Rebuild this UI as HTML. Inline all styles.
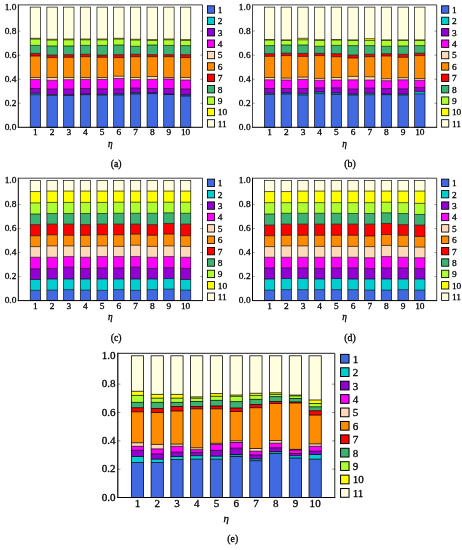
<!DOCTYPE html>
<html><head><meta charset="utf-8"><title>Figure</title>
<style>
html,body{margin:0;padding:0;background:#fff;}
svg{display:block;}
text{font-family:'Liberation Serif', serif;fill:#000;stroke:#000;stroke-width:0.3px;}
</style></head>
<body>
<svg width="462" height="550" viewBox="0 0 462 550">
<rect width="462" height="550" fill="#fff"/>
<rect x="30.20" y="94.70" width="10.40" height="32.60" fill="#4169E1"/>
<rect x="30.20" y="93.30" width="10.40" height="1.40" fill="#00A5A8"/>
<rect x="30.20" y="88.50" width="10.40" height="4.80" fill="#9400D3"/>
<rect x="30.20" y="79.40" width="10.40" height="9.10" fill="#FF00FF"/>
<rect x="30.20" y="77.50" width="10.40" height="1.90" fill="#FFDAB9"/>
<rect x="30.20" y="56.00" width="10.40" height="21.50" fill="#FF8C00"/>
<rect x="30.20" y="53.40" width="10.40" height="2.60" fill="#FF0000"/>
<rect x="30.20" y="45.40" width="10.40" height="8.00" fill="#3CB371"/>
<rect x="30.20" y="39.10" width="10.40" height="6.30" fill="#ADFF2F"/>
<rect x="30.20" y="38.30" width="10.40" height="0.80" fill="#FFFF00"/>
<rect x="30.20" y="7.10" width="10.40" height="31.20" fill="#FFFFE0"/>
<rect x="30.20" y="7.10" width="10.40" height="120.20" fill="none" stroke="#000" stroke-width="0.65"/>
<path d="M30.20 94.70h10.40M30.20 93.30h10.40M30.20 88.50h10.40M30.20 79.40h10.40M30.20 77.50h10.40M30.20 56.00h10.40M30.20 53.40h10.40M30.20 45.40h10.40M30.20 39.10h10.40M30.20 38.30h10.40" stroke="#000" stroke-width="0.65" fill="none"/>
<rect x="46.89" y="95.40" width="10.40" height="31.90" fill="#4169E1"/>
<rect x="46.89" y="94.60" width="10.40" height="0.80" fill="#00A5A8"/>
<rect x="46.89" y="89.10" width="10.40" height="5.50" fill="#9400D3"/>
<rect x="46.89" y="80.30" width="10.40" height="8.80" fill="#FF00FF"/>
<rect x="46.89" y="77.50" width="10.40" height="2.80" fill="#FFDAB9"/>
<rect x="46.89" y="57.60" width="10.40" height="19.90" fill="#FF8C00"/>
<rect x="46.89" y="55.10" width="10.40" height="2.50" fill="#FF0000"/>
<rect x="46.89" y="46.00" width="10.40" height="9.10" fill="#3CB371"/>
<rect x="46.89" y="40.05" width="10.40" height="5.95" fill="#ADFF2F"/>
<rect x="46.89" y="39.25" width="10.40" height="0.80" fill="#FFFF00"/>
<rect x="46.89" y="7.10" width="10.40" height="32.15" fill="#FFFFE0"/>
<rect x="46.89" y="7.10" width="10.40" height="120.20" fill="none" stroke="#000" stroke-width="0.65"/>
<path d="M46.89 95.40h10.40M46.89 94.60h10.40M46.89 89.10h10.40M46.89 80.30h10.40M46.89 77.50h10.40M46.89 57.60h10.40M46.89 55.10h10.40M46.89 46.00h10.40M46.89 40.05h10.40M46.89 39.25h10.40" stroke="#000" stroke-width="0.65" fill="none"/>
<rect x="63.58" y="95.40" width="10.40" height="31.90" fill="#4169E1"/>
<rect x="63.58" y="95.00" width="10.40" height="0.40" fill="#00A5A8"/>
<rect x="63.58" y="89.10" width="10.40" height="5.90" fill="#9400D3"/>
<rect x="63.58" y="79.70" width="10.40" height="9.40" fill="#FF00FF"/>
<rect x="63.58" y="77.50" width="10.40" height="2.20" fill="#FFDAB9"/>
<rect x="63.58" y="57.30" width="10.40" height="20.20" fill="#FF8C00"/>
<rect x="63.58" y="54.70" width="10.40" height="2.60" fill="#FF0000"/>
<rect x="63.58" y="46.00" width="10.40" height="8.70" fill="#3CB371"/>
<rect x="63.58" y="39.80" width="10.40" height="6.20" fill="#ADFF2F"/>
<rect x="63.58" y="39.00" width="10.40" height="0.80" fill="#FFFF00"/>
<rect x="63.58" y="7.10" width="10.40" height="31.90" fill="#FFFFE0"/>
<rect x="63.58" y="7.10" width="10.40" height="120.20" fill="none" stroke="#000" stroke-width="0.65"/>
<path d="M63.58 95.40h10.40M63.58 95.00h10.40M63.58 89.10h10.40M63.58 79.70h10.40M63.58 77.50h10.40M63.58 57.30h10.40M63.58 54.70h10.40M63.58 46.00h10.40M63.58 39.80h10.40M63.58 39.00h10.40" stroke="#000" stroke-width="0.65" fill="none"/>
<rect x="80.27" y="94.70" width="10.40" height="32.60" fill="#4169E1"/>
<rect x="80.27" y="94.10" width="10.40" height="0.60" fill="#00A5A8"/>
<rect x="80.27" y="88.50" width="10.40" height="5.60" fill="#9400D3"/>
<rect x="80.27" y="79.40" width="10.40" height="9.10" fill="#FF00FF"/>
<rect x="80.27" y="77.50" width="10.40" height="1.90" fill="#FFDAB9"/>
<rect x="80.27" y="56.70" width="10.40" height="20.80" fill="#FF8C00"/>
<rect x="80.27" y="54.30" width="10.40" height="2.40" fill="#FF0000"/>
<rect x="80.27" y="45.40" width="10.40" height="8.90" fill="#3CB371"/>
<rect x="80.27" y="39.80" width="10.40" height="5.60" fill="#ADFF2F"/>
<rect x="80.27" y="39.00" width="10.40" height="0.80" fill="#FFFF00"/>
<rect x="80.27" y="7.10" width="10.40" height="31.90" fill="#FFFFE0"/>
<rect x="80.27" y="7.10" width="10.40" height="120.20" fill="none" stroke="#000" stroke-width="0.65"/>
<path d="M80.27 94.70h10.40M80.27 94.10h10.40M80.27 88.50h10.40M80.27 79.40h10.40M80.27 77.50h10.40M80.27 56.70h10.40M80.27 54.30h10.40M80.27 45.40h10.40M80.27 39.80h10.40M80.27 39.00h10.40" stroke="#000" stroke-width="0.65" fill="none"/>
<rect x="96.96" y="95.10" width="10.40" height="32.20" fill="#4169E1"/>
<rect x="96.96" y="94.30" width="10.40" height="0.80" fill="#00A5A8"/>
<rect x="96.96" y="88.80" width="10.40" height="5.50" fill="#9400D3"/>
<rect x="96.96" y="79.40" width="10.40" height="9.40" fill="#FF00FF"/>
<rect x="96.96" y="77.50" width="10.40" height="1.90" fill="#FFDAB9"/>
<rect x="96.96" y="57.30" width="10.40" height="20.20" fill="#FF8C00"/>
<rect x="96.96" y="55.10" width="10.40" height="2.20" fill="#FF0000"/>
<rect x="96.96" y="45.40" width="10.40" height="9.70" fill="#3CB371"/>
<rect x="96.96" y="39.80" width="10.40" height="5.60" fill="#ADFF2F"/>
<rect x="96.96" y="39.00" width="10.40" height="0.80" fill="#FFFF00"/>
<rect x="96.96" y="7.10" width="10.40" height="31.90" fill="#FFFFE0"/>
<rect x="96.96" y="7.10" width="10.40" height="120.20" fill="none" stroke="#000" stroke-width="0.65"/>
<path d="M96.96 95.10h10.40M96.96 94.30h10.40M96.96 88.80h10.40M96.96 79.40h10.40M96.96 77.50h10.40M96.96 57.30h10.40M96.96 55.10h10.40M96.96 45.40h10.40M96.96 39.80h10.40M96.96 39.00h10.40" stroke="#000" stroke-width="0.65" fill="none"/>
<rect x="113.65" y="95.10" width="10.40" height="32.20" fill="#4169E1"/>
<rect x="113.65" y="94.10" width="10.40" height="1.00" fill="#00A5A8"/>
<rect x="113.65" y="88.80" width="10.40" height="5.30" fill="#9400D3"/>
<rect x="113.65" y="78.50" width="10.40" height="10.30" fill="#FF00FF"/>
<rect x="113.65" y="76.20" width="10.40" height="2.30" fill="#FFDAB9"/>
<rect x="113.65" y="57.60" width="10.40" height="18.60" fill="#FF8C00"/>
<rect x="113.65" y="54.70" width="10.40" height="2.90" fill="#FF0000"/>
<rect x="113.65" y="45.00" width="10.40" height="9.70" fill="#3CB371"/>
<rect x="113.65" y="39.10" width="10.40" height="5.90" fill="#ADFF2F"/>
<rect x="113.65" y="38.30" width="10.40" height="0.80" fill="#FFFF00"/>
<rect x="113.65" y="7.10" width="10.40" height="31.20" fill="#FFFFE0"/>
<rect x="113.65" y="7.10" width="10.40" height="120.20" fill="none" stroke="#000" stroke-width="0.65"/>
<path d="M113.65 95.10h10.40M113.65 94.10h10.40M113.65 88.80h10.40M113.65 78.50h10.40M113.65 76.20h10.40M113.65 57.60h10.40M113.65 54.70h10.40M113.65 45.00h10.40M113.65 39.10h10.40M113.65 38.30h10.40" stroke="#000" stroke-width="0.65" fill="none"/>
<rect x="130.34" y="94.10" width="10.40" height="33.20" fill="#4169E1"/>
<rect x="130.34" y="93.00" width="10.40" height="1.10" fill="#00A5A8"/>
<rect x="130.34" y="88.10" width="10.40" height="4.90" fill="#9400D3"/>
<rect x="130.34" y="79.70" width="10.40" height="8.40" fill="#FF00FF"/>
<rect x="130.34" y="77.50" width="10.40" height="2.20" fill="#FFDAB9"/>
<rect x="130.34" y="56.70" width="10.40" height="20.80" fill="#FF8C00"/>
<rect x="130.34" y="54.30" width="10.40" height="2.40" fill="#FF0000"/>
<rect x="130.34" y="46.30" width="10.40" height="8.00" fill="#3CB371"/>
<rect x="130.34" y="40.05" width="10.40" height="6.25" fill="#ADFF2F"/>
<rect x="130.34" y="39.25" width="10.40" height="0.80" fill="#FFFF00"/>
<rect x="130.34" y="7.10" width="10.40" height="32.15" fill="#FFFFE0"/>
<rect x="130.34" y="7.10" width="10.40" height="120.20" fill="none" stroke="#000" stroke-width="0.65"/>
<path d="M130.34 94.10h10.40M130.34 93.00h10.40M130.34 88.10h10.40M130.34 79.70h10.40M130.34 77.50h10.40M130.34 56.70h10.40M130.34 54.30h10.40M130.34 46.30h10.40M130.34 40.05h10.40M130.34 39.25h10.40" stroke="#000" stroke-width="0.65" fill="none"/>
<rect x="147.03" y="93.60" width="10.40" height="33.70" fill="#4169E1"/>
<rect x="147.03" y="93.00" width="10.40" height="0.60" fill="#00A5A8"/>
<rect x="147.03" y="88.50" width="10.40" height="4.50" fill="#9400D3"/>
<rect x="147.03" y="79.40" width="10.40" height="9.10" fill="#FF00FF"/>
<rect x="147.03" y="76.50" width="10.40" height="2.90" fill="#FFDAB9"/>
<rect x="147.03" y="56.70" width="10.40" height="19.80" fill="#FF8C00"/>
<rect x="147.03" y="54.70" width="10.40" height="2.00" fill="#FF0000"/>
<rect x="147.03" y="45.00" width="10.40" height="9.70" fill="#3CB371"/>
<rect x="147.03" y="40.40" width="10.40" height="4.60" fill="#ADFF2F"/>
<rect x="147.03" y="39.60" width="10.40" height="0.80" fill="#FFFF00"/>
<rect x="147.03" y="7.10" width="10.40" height="32.50" fill="#FFFFE0"/>
<rect x="147.03" y="7.10" width="10.40" height="120.20" fill="none" stroke="#000" stroke-width="0.65"/>
<path d="M147.03 93.60h10.40M147.03 93.00h10.40M147.03 88.50h10.40M147.03 79.40h10.40M147.03 76.50h10.40M147.03 56.70h10.40M147.03 54.70h10.40M147.03 45.00h10.40M147.03 40.40h10.40M147.03 39.60h10.40" stroke="#000" stroke-width="0.65" fill="none"/>
<rect x="163.72" y="94.50" width="10.40" height="32.80" fill="#4169E1"/>
<rect x="163.72" y="94.10" width="10.40" height="0.40" fill="#00A5A8"/>
<rect x="163.72" y="88.50" width="10.40" height="5.60" fill="#9400D3"/>
<rect x="163.72" y="79.00" width="10.40" height="9.50" fill="#FF00FF"/>
<rect x="163.72" y="77.50" width="10.40" height="1.50" fill="#FFDAB9"/>
<rect x="163.72" y="56.70" width="10.40" height="20.80" fill="#FF8C00"/>
<rect x="163.72" y="54.70" width="10.40" height="2.00" fill="#FF0000"/>
<rect x="163.72" y="45.40" width="10.40" height="9.30" fill="#3CB371"/>
<rect x="163.72" y="39.80" width="10.40" height="5.60" fill="#ADFF2F"/>
<rect x="163.72" y="39.00" width="10.40" height="0.80" fill="#FFFF00"/>
<rect x="163.72" y="7.10" width="10.40" height="31.90" fill="#FFFFE0"/>
<rect x="163.72" y="7.10" width="10.40" height="120.20" fill="none" stroke="#000" stroke-width="0.65"/>
<path d="M163.72 94.50h10.40M163.72 94.10h10.40M163.72 88.50h10.40M163.72 79.00h10.40M163.72 77.50h10.40M163.72 56.70h10.40M163.72 54.70h10.40M163.72 45.40h10.40M163.72 39.80h10.40M163.72 39.00h10.40" stroke="#000" stroke-width="0.65" fill="none"/>
<rect x="180.41" y="96.00" width="10.40" height="31.30" fill="#4169E1"/>
<rect x="180.41" y="95.00" width="10.40" height="1.00" fill="#00A5A8"/>
<rect x="180.41" y="89.10" width="10.40" height="5.90" fill="#9400D3"/>
<rect x="180.41" y="80.05" width="10.40" height="9.05" fill="#FF00FF"/>
<rect x="180.41" y="77.50" width="10.40" height="2.55" fill="#FFDAB9"/>
<rect x="180.41" y="57.60" width="10.40" height="19.90" fill="#FF8C00"/>
<rect x="180.41" y="54.70" width="10.40" height="2.90" fill="#FF0000"/>
<rect x="180.41" y="45.60" width="10.40" height="9.10" fill="#3CB371"/>
<rect x="180.41" y="40.40" width="10.40" height="5.20" fill="#ADFF2F"/>
<rect x="180.41" y="39.60" width="10.40" height="0.80" fill="#FFFF00"/>
<rect x="180.41" y="7.10" width="10.40" height="32.50" fill="#FFFFE0"/>
<rect x="180.41" y="7.10" width="10.40" height="120.20" fill="none" stroke="#000" stroke-width="0.65"/>
<path d="M180.41 96.00h10.40M180.41 95.00h10.40M180.41 89.10h10.40M180.41 80.05h10.40M180.41 77.50h10.40M180.41 57.60h10.40M180.41 54.70h10.40M180.41 45.60h10.40M180.41 40.40h10.40M180.41 39.60h10.40" stroke="#000" stroke-width="0.65" fill="none"/>
<path d="M18.30 4.90H202.50V127.30" fill="none" stroke="#222" stroke-width="0.85"/>
<path d="M18.30 4.50V127.30" fill="none" stroke="#000" stroke-width="1.00"/>
<path d="M17.80 127.30H202.92" fill="none" stroke="#000" stroke-width="1.00"/>
<text transform="translate(16.40 130.05) scale(1 0.87)" font-size="9.40" text-anchor="end">0.0</text>
<path d="M18.30 103.26h2.20M202.50 103.26h-2.20" stroke="#000" stroke-width="0.40"/>
<text transform="translate(16.40 106.01) scale(1 0.87)" font-size="9.40" text-anchor="end">0.2</text>
<path d="M18.30 79.22h2.20M202.50 79.22h-2.20" stroke="#000" stroke-width="0.40"/>
<text transform="translate(16.40 81.97) scale(1 0.87)" font-size="9.40" text-anchor="end">0.4</text>
<path d="M18.30 55.18h2.20M202.50 55.18h-2.20" stroke="#000" stroke-width="0.40"/>
<text transform="translate(16.40 57.93) scale(1 0.87)" font-size="9.40" text-anchor="end">0.6</text>
<path d="M18.30 31.14h2.20M202.50 31.14h-2.20" stroke="#000" stroke-width="0.40"/>
<text transform="translate(16.40 33.89) scale(1 0.87)" font-size="9.40" text-anchor="end">0.8</text>
<text transform="translate(16.40 9.85) scale(1 0.87)" font-size="9.40" text-anchor="end">1.0</text>
<text transform="translate(35.40 135.45) scale(1 0.87)" font-size="9.40" text-anchor="middle">1</text>
<text transform="translate(52.09 135.45) scale(1 0.87)" font-size="9.40" text-anchor="middle">2</text>
<text transform="translate(68.78 135.45) scale(1 0.87)" font-size="9.40" text-anchor="middle">3</text>
<text transform="translate(85.47 135.45) scale(1 0.87)" font-size="9.40" text-anchor="middle">4</text>
<text transform="translate(102.16 135.45) scale(1 0.87)" font-size="9.40" text-anchor="middle">5</text>
<text transform="translate(118.85 135.45) scale(1 0.87)" font-size="9.40" text-anchor="middle">6</text>
<text transform="translate(135.54 135.45) scale(1 0.87)" font-size="9.40" text-anchor="middle">7</text>
<text transform="translate(152.23 135.45) scale(1 0.87)" font-size="9.40" text-anchor="middle">8</text>
<text transform="translate(168.92 135.45) scale(1 0.87)" font-size="9.40" text-anchor="middle">9</text>
<text transform="translate(185.61 135.45) scale(1 0.87)" font-size="9.40" text-anchor="middle">10</text>
<text x="110.40" y="146.50" font-size="9.40" font-style="italic" text-anchor="middle">η</text>
<rect x="207.40" y="5.80" width="7.20" height="7.40" fill="#4169E1" stroke="#000" stroke-width="0.85"/>
<text transform="translate(217.70 12.90) scale(1 0.87)" font-size="9.40">1</text>
<rect x="207.40" y="17.19" width="7.20" height="7.40" fill="#00CED1" stroke="#000" stroke-width="0.85"/>
<text transform="translate(217.70 24.29) scale(1 0.87)" font-size="9.40">2</text>
<rect x="207.40" y="28.58" width="7.20" height="7.40" fill="#9400D3" stroke="#000" stroke-width="0.85"/>
<text transform="translate(217.70 35.68) scale(1 0.87)" font-size="9.40">3</text>
<rect x="207.40" y="39.97" width="7.20" height="7.40" fill="#FF00FF" stroke="#000" stroke-width="0.85"/>
<text transform="translate(217.70 47.07) scale(1 0.87)" font-size="9.40">4</text>
<rect x="207.40" y="51.36" width="7.20" height="7.40" fill="#FFDAB9" stroke="#000" stroke-width="0.85"/>
<text transform="translate(217.70 58.46) scale(1 0.87)" font-size="9.40">5</text>
<rect x="207.40" y="62.75" width="7.20" height="7.40" fill="#FF8C00" stroke="#000" stroke-width="0.85"/>
<text transform="translate(217.70 69.85) scale(1 0.87)" font-size="9.40">6</text>
<rect x="207.40" y="74.14" width="7.20" height="7.40" fill="#FF0000" stroke="#000" stroke-width="0.85"/>
<text transform="translate(217.70 81.24) scale(1 0.87)" font-size="9.40">7</text>
<rect x="207.40" y="85.53" width="7.20" height="7.40" fill="#3CB371" stroke="#000" stroke-width="0.85"/>
<text transform="translate(217.70 92.63) scale(1 0.87)" font-size="9.40">8</text>
<rect x="207.40" y="96.92" width="7.20" height="7.40" fill="#ADFF2F" stroke="#000" stroke-width="0.85"/>
<text transform="translate(217.70 104.02) scale(1 0.87)" font-size="9.40">9</text>
<rect x="207.40" y="108.31" width="7.20" height="7.40" fill="#FFFF00" stroke="#000" stroke-width="0.85"/>
<text transform="translate(217.70 115.41) scale(1 0.87)" font-size="9.40">10</text>
<rect x="207.40" y="119.70" width="7.20" height="7.40" fill="#FFFFE0" stroke="#000" stroke-width="0.85"/>
<text transform="translate(217.70 126.80) scale(1 0.87)" font-size="9.40">11</text>
<text x="116.20" y="166.60" font-size="9.8" stroke-width="0.4" text-anchor="middle">(a)</text>
<rect x="264.40" y="94.50" width="10.40" height="32.80" fill="#4169E1"/>
<rect x="264.40" y="93.30" width="10.40" height="1.20" fill="#00A5A8"/>
<rect x="264.40" y="88.50" width="10.40" height="4.80" fill="#9400D3"/>
<rect x="264.40" y="79.80" width="10.40" height="8.70" fill="#FF00FF"/>
<rect x="264.40" y="77.50" width="10.40" height="2.30" fill="#FFDAB9"/>
<rect x="264.40" y="56.30" width="10.40" height="21.20" fill="#FF8C00"/>
<rect x="264.40" y="53.70" width="10.40" height="2.60" fill="#FF0000"/>
<rect x="264.40" y="45.60" width="10.40" height="8.10" fill="#3CB371"/>
<rect x="264.40" y="40.05" width="10.40" height="5.55" fill="#ADFF2F"/>
<rect x="264.40" y="39.55" width="10.40" height="0.50" fill="#FFFF00"/>
<rect x="264.40" y="7.10" width="10.40" height="32.45" fill="#FFFFE0"/>
<rect x="264.40" y="7.10" width="10.40" height="120.20" fill="none" stroke="#000" stroke-width="0.65"/>
<path d="M264.40 94.50h10.40M264.40 93.30h10.40M264.40 88.50h10.40M264.40 79.80h10.40M264.40 77.50h10.40M264.40 56.30h10.40M264.40 53.70h10.40M264.40 45.60h10.40M264.40 40.05h10.40M264.40 39.55h10.40" stroke="#000" stroke-width="0.65" fill="none"/>
<rect x="281.09" y="94.10" width="10.40" height="33.20" fill="#4169E1"/>
<rect x="281.09" y="93.00" width="10.40" height="1.10" fill="#00A5A8"/>
<rect x="281.09" y="88.50" width="10.40" height="4.50" fill="#9400D3"/>
<rect x="281.09" y="80.05" width="10.40" height="8.45" fill="#FF00FF"/>
<rect x="281.09" y="78.10" width="10.40" height="1.95" fill="#FFDAB9"/>
<rect x="281.09" y="55.60" width="10.40" height="22.50" fill="#FF8C00"/>
<rect x="281.09" y="53.20" width="10.40" height="2.40" fill="#FF0000"/>
<rect x="281.09" y="45.00" width="10.40" height="8.20" fill="#3CB371"/>
<rect x="281.09" y="40.40" width="10.40" height="4.60" fill="#ADFF2F"/>
<rect x="281.09" y="39.90" width="10.40" height="0.50" fill="#FFFF00"/>
<rect x="281.09" y="7.10" width="10.40" height="32.80" fill="#FFFFE0"/>
<rect x="281.09" y="7.10" width="10.40" height="120.20" fill="none" stroke="#000" stroke-width="0.65"/>
<path d="M281.09 94.10h10.40M281.09 93.00h10.40M281.09 88.50h10.40M281.09 80.05h10.40M281.09 78.10h10.40M281.09 55.60h10.40M281.09 53.20h10.40M281.09 45.00h10.40M281.09 40.40h10.40M281.09 39.90h10.40" stroke="#000" stroke-width="0.65" fill="none"/>
<rect x="297.78" y="95.10" width="10.40" height="32.20" fill="#4169E1"/>
<rect x="297.78" y="93.70" width="10.40" height="1.40" fill="#00A5A8"/>
<rect x="297.78" y="88.50" width="10.40" height="5.20" fill="#9400D3"/>
<rect x="297.78" y="79.40" width="10.40" height="9.10" fill="#FF00FF"/>
<rect x="297.78" y="77.10" width="10.40" height="2.30" fill="#FFDAB9"/>
<rect x="297.78" y="56.40" width="10.40" height="20.70" fill="#FF8C00"/>
<rect x="297.78" y="53.40" width="10.40" height="3.00" fill="#FF0000"/>
<rect x="297.78" y="45.00" width="10.40" height="8.40" fill="#3CB371"/>
<rect x="297.78" y="39.80" width="10.40" height="5.20" fill="#ADFF2F"/>
<rect x="297.78" y="38.30" width="10.40" height="1.50" fill="#FFFF00"/>
<rect x="297.78" y="7.10" width="10.40" height="31.20" fill="#FFFFE0"/>
<rect x="297.78" y="7.10" width="10.40" height="120.20" fill="none" stroke="#000" stroke-width="0.65"/>
<path d="M297.78 95.10h10.40M297.78 93.70h10.40M297.78 88.50h10.40M297.78 79.40h10.40M297.78 77.10h10.40M297.78 56.40h10.40M297.78 53.40h10.40M297.78 45.00h10.40M297.78 39.80h10.40M297.78 38.30h10.40" stroke="#000" stroke-width="0.65" fill="none"/>
<rect x="314.47" y="93.60" width="10.40" height="33.70" fill="#4169E1"/>
<rect x="314.47" y="92.00" width="10.40" height="1.60" fill="#00A5A8"/>
<rect x="314.47" y="87.80" width="10.40" height="4.20" fill="#9400D3"/>
<rect x="314.47" y="80.30" width="10.40" height="7.50" fill="#FF00FF"/>
<rect x="314.47" y="78.40" width="10.40" height="1.90" fill="#FFDAB9"/>
<rect x="314.47" y="55.60" width="10.40" height="22.80" fill="#FF8C00"/>
<rect x="314.47" y="53.40" width="10.40" height="2.20" fill="#FF0000"/>
<rect x="314.47" y="46.30" width="10.40" height="7.10" fill="#3CB371"/>
<rect x="314.47" y="40.40" width="10.40" height="5.90" fill="#ADFF2F"/>
<rect x="314.47" y="39.70" width="10.40" height="0.70" fill="#FFFF00"/>
<rect x="314.47" y="7.10" width="10.40" height="32.60" fill="#FFFFE0"/>
<rect x="314.47" y="7.10" width="10.40" height="120.20" fill="none" stroke="#000" stroke-width="0.65"/>
<path d="M314.47 93.60h10.40M314.47 92.00h10.40M314.47 87.80h10.40M314.47 80.30h10.40M314.47 78.40h10.40M314.47 55.60h10.40M314.47 53.40h10.40M314.47 46.30h10.40M314.47 40.40h10.40M314.47 39.70h10.40" stroke="#000" stroke-width="0.65" fill="none"/>
<rect x="331.16" y="94.50" width="10.40" height="32.80" fill="#4169E1"/>
<rect x="331.16" y="93.00" width="10.40" height="1.50" fill="#00A5A8"/>
<rect x="331.16" y="87.80" width="10.40" height="5.20" fill="#9400D3"/>
<rect x="331.16" y="80.05" width="10.40" height="7.75" fill="#FF00FF"/>
<rect x="331.16" y="77.50" width="10.40" height="2.55" fill="#FFDAB9"/>
<rect x="331.16" y="56.70" width="10.40" height="20.80" fill="#FF8C00"/>
<rect x="331.16" y="53.70" width="10.40" height="3.00" fill="#FF0000"/>
<rect x="331.16" y="45.40" width="10.40" height="8.30" fill="#3CB371"/>
<rect x="331.16" y="40.05" width="10.40" height="5.35" fill="#ADFF2F"/>
<rect x="331.16" y="39.55" width="10.40" height="0.50" fill="#FFFF00"/>
<rect x="331.16" y="7.10" width="10.40" height="32.45" fill="#FFFFE0"/>
<rect x="331.16" y="7.10" width="10.40" height="120.20" fill="none" stroke="#000" stroke-width="0.65"/>
<path d="M331.16 94.50h10.40M331.16 93.00h10.40M331.16 87.80h10.40M331.16 80.05h10.40M331.16 77.50h10.40M331.16 56.70h10.40M331.16 53.70h10.40M331.16 45.40h10.40M331.16 40.05h10.40M331.16 39.55h10.40" stroke="#000" stroke-width="0.65" fill="none"/>
<rect x="347.85" y="95.10" width="10.40" height="32.20" fill="#4169E1"/>
<rect x="347.85" y="94.10" width="10.40" height="1.00" fill="#00A5A8"/>
<rect x="347.85" y="89.10" width="10.40" height="5.00" fill="#9400D3"/>
<rect x="347.85" y="79.80" width="10.40" height="9.30" fill="#FF00FF"/>
<rect x="347.85" y="76.40" width="10.40" height="3.40" fill="#FFDAB9"/>
<rect x="347.85" y="58.00" width="10.40" height="18.40" fill="#FF8C00"/>
<rect x="347.85" y="55.10" width="10.40" height="2.90" fill="#FF0000"/>
<rect x="347.85" y="45.60" width="10.40" height="9.50" fill="#3CB371"/>
<rect x="347.85" y="40.40" width="10.40" height="5.20" fill="#ADFF2F"/>
<rect x="347.85" y="39.90" width="10.40" height="0.50" fill="#FFFF00"/>
<rect x="347.85" y="7.10" width="10.40" height="32.80" fill="#FFFFE0"/>
<rect x="347.85" y="7.10" width="10.40" height="120.20" fill="none" stroke="#000" stroke-width="0.65"/>
<path d="M347.85 95.10h10.40M347.85 94.10h10.40M347.85 89.10h10.40M347.85 79.80h10.40M347.85 76.40h10.40M347.85 58.00h10.40M347.85 55.10h10.40M347.85 45.60h10.40M347.85 40.40h10.40M347.85 39.90h10.40" stroke="#000" stroke-width="0.65" fill="none"/>
<rect x="364.54" y="94.70" width="10.40" height="32.60" fill="#4169E1"/>
<rect x="364.54" y="93.30" width="10.40" height="1.40" fill="#00A5A8"/>
<rect x="364.54" y="88.10" width="10.40" height="5.20" fill="#9400D3"/>
<rect x="364.54" y="80.05" width="10.40" height="8.05" fill="#FF00FF"/>
<rect x="364.54" y="76.80" width="10.40" height="3.25" fill="#FFDAB9"/>
<rect x="364.54" y="56.70" width="10.40" height="20.10" fill="#FF8C00"/>
<rect x="364.54" y="54.30" width="10.40" height="2.40" fill="#FF0000"/>
<rect x="364.54" y="45.60" width="10.40" height="8.70" fill="#3CB371"/>
<rect x="364.54" y="40.40" width="10.40" height="5.20" fill="#ADFF2F"/>
<rect x="364.54" y="38.70" width="10.40" height="1.70" fill="#FFFF00"/>
<rect x="364.54" y="7.10" width="10.40" height="31.60" fill="#FFFFE0"/>
<rect x="364.54" y="7.10" width="10.40" height="120.20" fill="none" stroke="#000" stroke-width="0.65"/>
<path d="M364.54 94.70h10.40M364.54 93.30h10.40M364.54 88.10h10.40M364.54 80.05h10.40M364.54 76.80h10.40M364.54 56.70h10.40M364.54 54.30h10.40M364.54 45.60h10.40M364.54 40.40h10.40M364.54 38.70h10.40" stroke="#000" stroke-width="0.65" fill="none"/>
<rect x="381.23" y="94.70" width="10.40" height="32.60" fill="#4169E1"/>
<rect x="381.23" y="94.10" width="10.40" height="0.60" fill="#00A5A8"/>
<rect x="381.23" y="88.50" width="10.40" height="5.60" fill="#9400D3"/>
<rect x="381.23" y="80.70" width="10.40" height="7.80" fill="#FF00FF"/>
<rect x="381.23" y="78.75" width="10.40" height="1.95" fill="#FFDAB9"/>
<rect x="381.23" y="56.00" width="10.40" height="22.75" fill="#FF8C00"/>
<rect x="381.23" y="53.70" width="10.40" height="2.30" fill="#FF0000"/>
<rect x="381.23" y="46.30" width="10.40" height="7.40" fill="#3CB371"/>
<rect x="381.23" y="40.40" width="10.40" height="5.90" fill="#ADFF2F"/>
<rect x="381.23" y="39.90" width="10.40" height="0.50" fill="#FFFF00"/>
<rect x="381.23" y="7.10" width="10.40" height="32.80" fill="#FFFFE0"/>
<rect x="381.23" y="7.10" width="10.40" height="120.20" fill="none" stroke="#000" stroke-width="0.65"/>
<path d="M381.23 94.70h10.40M381.23 94.10h10.40M381.23 88.50h10.40M381.23 80.70h10.40M381.23 78.75h10.40M381.23 56.00h10.40M381.23 53.70h10.40M381.23 46.30h10.40M381.23 40.40h10.40M381.23 39.90h10.40" stroke="#000" stroke-width="0.65" fill="none"/>
<rect x="397.92" y="95.10" width="10.40" height="32.20" fill="#4169E1"/>
<rect x="397.92" y="94.10" width="10.40" height="1.00" fill="#00A5A8"/>
<rect x="397.92" y="88.80" width="10.40" height="5.30" fill="#9400D3"/>
<rect x="397.92" y="79.80" width="10.40" height="9.00" fill="#FF00FF"/>
<rect x="397.92" y="77.70" width="10.40" height="2.10" fill="#FFDAB9"/>
<rect x="397.92" y="57.30" width="10.40" height="20.40" fill="#FF8C00"/>
<rect x="397.92" y="54.30" width="10.40" height="3.00" fill="#FF0000"/>
<rect x="397.92" y="46.00" width="10.40" height="8.30" fill="#3CB371"/>
<rect x="397.92" y="40.40" width="10.40" height="5.60" fill="#ADFF2F"/>
<rect x="397.92" y="39.90" width="10.40" height="0.50" fill="#FFFF00"/>
<rect x="397.92" y="7.10" width="10.40" height="32.80" fill="#FFFFE0"/>
<rect x="397.92" y="7.10" width="10.40" height="120.20" fill="none" stroke="#000" stroke-width="0.65"/>
<path d="M397.92 95.10h10.40M397.92 94.10h10.40M397.92 88.80h10.40M397.92 79.80h10.40M397.92 77.70h10.40M397.92 57.30h10.40M397.92 54.30h10.40M397.92 46.00h10.40M397.92 40.40h10.40M397.92 39.90h10.40" stroke="#000" stroke-width="0.65" fill="none"/>
<rect x="414.61" y="93.80" width="10.40" height="33.50" fill="#4169E1"/>
<rect x="414.61" y="91.70" width="10.40" height="2.10" fill="#00CED1"/>
<rect x="414.61" y="87.50" width="10.40" height="4.20" fill="#9400D3"/>
<rect x="414.61" y="80.30" width="10.40" height="7.20" fill="#FF00FF"/>
<rect x="414.61" y="78.50" width="10.40" height="1.80" fill="#FFDAB9"/>
<rect x="414.61" y="55.60" width="10.40" height="22.90" fill="#FF8C00"/>
<rect x="414.61" y="53.20" width="10.40" height="2.40" fill="#FF0000"/>
<rect x="414.61" y="45.60" width="10.40" height="7.60" fill="#3CB371"/>
<rect x="414.61" y="40.40" width="10.40" height="5.20" fill="#ADFF2F"/>
<rect x="414.61" y="39.90" width="10.40" height="0.50" fill="#FFFF00"/>
<rect x="414.61" y="7.10" width="10.40" height="32.80" fill="#FFFFE0"/>
<rect x="414.61" y="7.10" width="10.40" height="120.20" fill="none" stroke="#000" stroke-width="0.65"/>
<path d="M414.61 93.80h10.40M414.61 91.70h10.40M414.61 87.50h10.40M414.61 80.30h10.40M414.61 78.50h10.40M414.61 55.60h10.40M414.61 53.20h10.40M414.61 45.60h10.40M414.61 40.40h10.40M414.61 39.90h10.40" stroke="#000" stroke-width="0.65" fill="none"/>
<path d="M252.50 4.90H436.70V127.30" fill="none" stroke="#222" stroke-width="0.85"/>
<path d="M252.50 4.50V127.30" fill="none" stroke="#444" stroke-width="1.00"/>
<path d="M252.00 127.30H437.12" fill="none" stroke="#000" stroke-width="1.00"/>
<text transform="translate(250.60 130.05) scale(1 0.87)" font-size="9.40" text-anchor="end">0.0</text>
<path d="M252.50 103.26h2.20M436.70 103.26h-2.20" stroke="#000" stroke-width="0.40"/>
<text transform="translate(250.60 106.01) scale(1 0.87)" font-size="9.40" text-anchor="end">0.2</text>
<path d="M252.50 79.22h2.20M436.70 79.22h-2.20" stroke="#000" stroke-width="0.40"/>
<text transform="translate(250.60 81.97) scale(1 0.87)" font-size="9.40" text-anchor="end">0.4</text>
<path d="M252.50 55.18h2.20M436.70 55.18h-2.20" stroke="#000" stroke-width="0.40"/>
<text transform="translate(250.60 57.93) scale(1 0.87)" font-size="9.40" text-anchor="end">0.6</text>
<path d="M252.50 31.14h2.20M436.70 31.14h-2.20" stroke="#000" stroke-width="0.40"/>
<text transform="translate(250.60 33.89) scale(1 0.87)" font-size="9.40" text-anchor="end">0.8</text>
<text transform="translate(250.60 9.85) scale(1 0.87)" font-size="9.40" text-anchor="end">1.0</text>
<text transform="translate(269.60 135.45) scale(1 0.87)" font-size="9.40" text-anchor="middle">1</text>
<text transform="translate(286.29 135.45) scale(1 0.87)" font-size="9.40" text-anchor="middle">2</text>
<text transform="translate(302.98 135.45) scale(1 0.87)" font-size="9.40" text-anchor="middle">3</text>
<text transform="translate(319.67 135.45) scale(1 0.87)" font-size="9.40" text-anchor="middle">4</text>
<text transform="translate(336.36 135.45) scale(1 0.87)" font-size="9.40" text-anchor="middle">5</text>
<text transform="translate(353.05 135.45) scale(1 0.87)" font-size="9.40" text-anchor="middle">6</text>
<text transform="translate(369.74 135.45) scale(1 0.87)" font-size="9.40" text-anchor="middle">7</text>
<text transform="translate(386.43 135.45) scale(1 0.87)" font-size="9.40" text-anchor="middle">8</text>
<text transform="translate(403.12 135.45) scale(1 0.87)" font-size="9.40" text-anchor="middle">9</text>
<text transform="translate(419.81 135.45) scale(1 0.87)" font-size="9.40" text-anchor="middle">10</text>
<text x="344.60" y="146.50" font-size="9.40" font-style="italic" text-anchor="middle">η</text>
<rect x="441.60" y="5.80" width="7.20" height="7.40" fill="#4169E1" stroke="#000" stroke-width="0.85"/>
<text transform="translate(451.90 12.90) scale(1 0.87)" font-size="9.40">1</text>
<rect x="441.60" y="17.19" width="7.20" height="7.40" fill="#00CED1" stroke="#000" stroke-width="0.85"/>
<text transform="translate(451.90 24.29) scale(1 0.87)" font-size="9.40">2</text>
<rect x="441.60" y="28.58" width="7.20" height="7.40" fill="#9400D3" stroke="#000" stroke-width="0.85"/>
<text transform="translate(451.90 35.68) scale(1 0.87)" font-size="9.40">3</text>
<rect x="441.60" y="39.97" width="7.20" height="7.40" fill="#FF00FF" stroke="#000" stroke-width="0.85"/>
<text transform="translate(451.90 47.07) scale(1 0.87)" font-size="9.40">4</text>
<rect x="441.60" y="51.36" width="7.20" height="7.40" fill="#FFDAB9" stroke="#000" stroke-width="0.85"/>
<text transform="translate(451.90 58.46) scale(1 0.87)" font-size="9.40">5</text>
<rect x="441.60" y="62.75" width="7.20" height="7.40" fill="#FF8C00" stroke="#000" stroke-width="0.85"/>
<text transform="translate(451.90 69.85) scale(1 0.87)" font-size="9.40">6</text>
<rect x="441.60" y="74.14" width="7.20" height="7.40" fill="#FF0000" stroke="#000" stroke-width="0.85"/>
<text transform="translate(451.90 81.24) scale(1 0.87)" font-size="9.40">7</text>
<rect x="441.60" y="85.53" width="7.20" height="7.40" fill="#3CB371" stroke="#000" stroke-width="0.85"/>
<text transform="translate(451.90 92.63) scale(1 0.87)" font-size="9.40">8</text>
<rect x="441.60" y="96.92" width="7.20" height="7.40" fill="#ADFF2F" stroke="#000" stroke-width="0.85"/>
<text transform="translate(451.90 104.02) scale(1 0.87)" font-size="9.40">9</text>
<rect x="441.60" y="108.31" width="7.20" height="7.40" fill="#FFFF00" stroke="#000" stroke-width="0.85"/>
<text transform="translate(451.90 115.41) scale(1 0.87)" font-size="9.40">10</text>
<rect x="441.60" y="119.70" width="7.20" height="7.40" fill="#FFFFE0" stroke="#000" stroke-width="0.85"/>
<text transform="translate(451.90 126.80) scale(1 0.87)" font-size="9.40">11</text>
<text x="350.00" y="166.60" font-size="9.8" stroke-width="0.4" text-anchor="middle">(b)</text>
<rect x="30.20" y="290.37" width="10.40" height="10.23" fill="#4169E1"/>
<rect x="30.20" y="279.49" width="10.40" height="10.87" fill="#00CED1"/>
<rect x="30.20" y="268.85" width="10.40" height="10.64" fill="#9400D3"/>
<rect x="30.20" y="257.27" width="10.40" height="11.58" fill="#FF00FF"/>
<rect x="30.20" y="246.63" width="10.40" height="10.64" fill="#FFDAB9"/>
<rect x="30.20" y="235.76" width="10.40" height="10.87" fill="#FF8C00"/>
<rect x="30.20" y="224.65" width="10.40" height="11.11" fill="#FF0000"/>
<rect x="30.20" y="214.01" width="10.40" height="10.64" fill="#3CB371"/>
<rect x="30.20" y="202.90" width="10.40" height="11.11" fill="#ADFF2F"/>
<rect x="30.20" y="191.55" width="10.40" height="11.35" fill="#FFFF00"/>
<rect x="30.20" y="180.50" width="10.40" height="11.05" fill="#FFFFE0"/>
<rect x="30.20" y="180.50" width="10.40" height="120.10" fill="none" stroke="#000" stroke-width="0.65"/>
<path d="M30.20 290.37h10.40M30.20 279.49h10.40M30.20 268.85h10.40M30.20 257.27h10.40M30.20 246.63h10.40M30.20 235.76h10.40M30.20 224.65h10.40M30.20 214.01h10.40M30.20 202.90h10.40M30.20 191.55h10.40" stroke="#000" stroke-width="0.65" fill="none"/>
<rect x="46.89" y="290.13" width="10.40" height="10.47" fill="#4169E1"/>
<rect x="46.89" y="279.02" width="10.40" height="11.11" fill="#00CED1"/>
<rect x="46.89" y="268.38" width="10.40" height="10.64" fill="#9400D3"/>
<rect x="46.89" y="257.27" width="10.40" height="11.11" fill="#FF00FF"/>
<rect x="46.89" y="245.92" width="10.40" height="11.35" fill="#FFDAB9"/>
<rect x="46.89" y="234.81" width="10.40" height="11.11" fill="#FF8C00"/>
<rect x="46.89" y="224.17" width="10.40" height="10.64" fill="#FF0000"/>
<rect x="46.89" y="213.53" width="10.40" height="10.64" fill="#3CB371"/>
<rect x="46.89" y="202.42" width="10.40" height="11.11" fill="#ADFF2F"/>
<rect x="46.89" y="191.08" width="10.40" height="11.35" fill="#FFFF00"/>
<rect x="46.89" y="180.50" width="10.40" height="10.58" fill="#FFFFE0"/>
<rect x="46.89" y="180.50" width="10.40" height="120.10" fill="none" stroke="#000" stroke-width="0.65"/>
<path d="M46.89 290.13h10.40M46.89 279.02h10.40M46.89 268.38h10.40M46.89 257.27h10.40M46.89 245.92h10.40M46.89 234.81h10.40M46.89 224.17h10.40M46.89 213.53h10.40M46.89 202.42h10.40M46.89 191.08h10.40" stroke="#000" stroke-width="0.65" fill="none"/>
<rect x="63.58" y="289.66" width="10.40" height="10.94" fill="#4169E1"/>
<rect x="63.58" y="279.02" width="10.40" height="10.64" fill="#00CED1"/>
<rect x="63.58" y="267.20" width="10.40" height="11.82" fill="#9400D3"/>
<rect x="63.58" y="256.56" width="10.40" height="10.64" fill="#FF00FF"/>
<rect x="63.58" y="245.92" width="10.40" height="10.64" fill="#FFDAB9"/>
<rect x="63.58" y="235.28" width="10.40" height="10.64" fill="#FF8C00"/>
<rect x="63.58" y="224.17" width="10.40" height="11.11" fill="#FF0000"/>
<rect x="63.58" y="213.53" width="10.40" height="10.64" fill="#3CB371"/>
<rect x="63.58" y="202.42" width="10.40" height="11.11" fill="#ADFF2F"/>
<rect x="63.58" y="191.08" width="10.40" height="11.35" fill="#FFFF00"/>
<rect x="63.58" y="180.50" width="10.40" height="10.58" fill="#FFFFE0"/>
<rect x="63.58" y="180.50" width="10.40" height="120.10" fill="none" stroke="#000" stroke-width="0.65"/>
<path d="M63.58 289.66h10.40M63.58 279.02h10.40M63.58 267.20h10.40M63.58 256.56h10.40M63.58 245.92h10.40M63.58 235.28h10.40M63.58 224.17h10.40M63.58 213.53h10.40M63.58 202.42h10.40M63.58 191.08h10.40" stroke="#000" stroke-width="0.65" fill="none"/>
<rect x="80.27" y="290.13" width="10.40" height="10.47" fill="#4169E1"/>
<rect x="80.27" y="279.02" width="10.40" height="11.11" fill="#00CED1"/>
<rect x="80.27" y="268.38" width="10.40" height="10.64" fill="#9400D3"/>
<rect x="80.27" y="257.27" width="10.40" height="11.11" fill="#FF00FF"/>
<rect x="80.27" y="246.39" width="10.40" height="10.87" fill="#FFDAB9"/>
<rect x="80.27" y="235.28" width="10.40" height="11.11" fill="#FF8C00"/>
<rect x="80.27" y="224.65" width="10.40" height="10.64" fill="#FF0000"/>
<rect x="80.27" y="213.53" width="10.40" height="11.11" fill="#3CB371"/>
<rect x="80.27" y="202.42" width="10.40" height="11.11" fill="#ADFF2F"/>
<rect x="80.27" y="191.08" width="10.40" height="11.35" fill="#FFFF00"/>
<rect x="80.27" y="180.50" width="10.40" height="10.58" fill="#FFFFE0"/>
<rect x="80.27" y="180.50" width="10.40" height="120.10" fill="none" stroke="#000" stroke-width="0.65"/>
<path d="M80.27 290.13h10.40M80.27 279.02h10.40M80.27 268.38h10.40M80.27 257.27h10.40M80.27 246.39h10.40M80.27 235.28h10.40M80.27 224.65h10.40M80.27 213.53h10.40M80.27 202.42h10.40M80.27 191.08h10.40" stroke="#000" stroke-width="0.65" fill="none"/>
<rect x="96.96" y="290.37" width="10.40" height="10.23" fill="#4169E1"/>
<rect x="96.96" y="279.02" width="10.40" height="11.35" fill="#00CED1"/>
<rect x="96.96" y="267.91" width="10.40" height="11.11" fill="#9400D3"/>
<rect x="96.96" y="256.56" width="10.40" height="11.35" fill="#FF00FF"/>
<rect x="96.96" y="245.92" width="10.40" height="10.64" fill="#FFDAB9"/>
<rect x="96.96" y="234.81" width="10.40" height="11.11" fill="#FF8C00"/>
<rect x="96.96" y="224.17" width="10.40" height="10.64" fill="#FF0000"/>
<rect x="96.96" y="213.53" width="10.40" height="10.64" fill="#3CB371"/>
<rect x="96.96" y="202.42" width="10.40" height="11.11" fill="#ADFF2F"/>
<rect x="96.96" y="191.08" width="10.40" height="11.35" fill="#FFFF00"/>
<rect x="96.96" y="180.50" width="10.40" height="10.58" fill="#FFFFE0"/>
<rect x="96.96" y="180.50" width="10.40" height="120.10" fill="none" stroke="#000" stroke-width="0.65"/>
<path d="M96.96 290.37h10.40M96.96 279.02h10.40M96.96 267.91h10.40M96.96 256.56h10.40M96.96 245.92h10.40M96.96 234.81h10.40M96.96 224.17h10.40M96.96 213.53h10.40M96.96 202.42h10.40M96.96 191.08h10.40" stroke="#000" stroke-width="0.65" fill="none"/>
<rect x="113.65" y="289.66" width="10.40" height="10.94" fill="#4169E1"/>
<rect x="113.65" y="279.02" width="10.40" height="10.64" fill="#00CED1"/>
<rect x="113.65" y="267.91" width="10.40" height="11.11" fill="#9400D3"/>
<rect x="113.65" y="256.56" width="10.40" height="11.35" fill="#FF00FF"/>
<rect x="113.65" y="246.39" width="10.40" height="10.17" fill="#FFDAB9"/>
<rect x="113.65" y="234.81" width="10.40" height="11.58" fill="#FF8C00"/>
<rect x="113.65" y="224.17" width="10.40" height="10.64" fill="#FF0000"/>
<rect x="113.65" y="213.30" width="10.40" height="10.87" fill="#3CB371"/>
<rect x="113.65" y="202.19" width="10.40" height="11.11" fill="#ADFF2F"/>
<rect x="113.65" y="191.08" width="10.40" height="11.11" fill="#FFFF00"/>
<rect x="113.65" y="180.50" width="10.40" height="10.58" fill="#FFFFE0"/>
<rect x="113.65" y="180.50" width="10.40" height="120.10" fill="none" stroke="#000" stroke-width="0.65"/>
<path d="M113.65 289.66h10.40M113.65 279.02h10.40M113.65 267.91h10.40M113.65 256.56h10.40M113.65 246.39h10.40M113.65 234.81h10.40M113.65 224.17h10.40M113.65 213.30h10.40M113.65 202.19h10.40M113.65 191.08h10.40" stroke="#000" stroke-width="0.65" fill="none"/>
<rect x="130.34" y="290.37" width="10.40" height="10.23" fill="#4169E1"/>
<rect x="130.34" y="279.02" width="10.40" height="11.35" fill="#00CED1"/>
<rect x="130.34" y="267.20" width="10.40" height="11.82" fill="#9400D3"/>
<rect x="130.34" y="256.56" width="10.40" height="10.64" fill="#FF00FF"/>
<rect x="130.34" y="245.21" width="10.40" height="11.35" fill="#FFDAB9"/>
<rect x="130.34" y="234.10" width="10.40" height="11.11" fill="#FF8C00"/>
<rect x="130.34" y="224.17" width="10.40" height="9.93" fill="#FF0000"/>
<rect x="130.34" y="213.30" width="10.40" height="10.87" fill="#3CB371"/>
<rect x="130.34" y="202.19" width="10.40" height="11.11" fill="#ADFF2F"/>
<rect x="130.34" y="191.08" width="10.40" height="11.11" fill="#FFFF00"/>
<rect x="130.34" y="180.50" width="10.40" height="10.58" fill="#FFFFE0"/>
<rect x="130.34" y="180.50" width="10.40" height="120.10" fill="none" stroke="#000" stroke-width="0.65"/>
<path d="M130.34 290.37h10.40M130.34 279.02h10.40M130.34 267.20h10.40M130.34 256.56h10.40M130.34 245.21h10.40M130.34 234.10h10.40M130.34 224.17h10.40M130.34 213.30h10.40M130.34 202.19h10.40M130.34 191.08h10.40" stroke="#000" stroke-width="0.65" fill="none"/>
<rect x="147.03" y="289.66" width="10.40" height="10.94" fill="#4169E1"/>
<rect x="147.03" y="279.02" width="10.40" height="10.64" fill="#00CED1"/>
<rect x="147.03" y="268.38" width="10.40" height="10.64" fill="#9400D3"/>
<rect x="147.03" y="257.27" width="10.40" height="11.11" fill="#FF00FF"/>
<rect x="147.03" y="246.39" width="10.40" height="10.87" fill="#FFDAB9"/>
<rect x="147.03" y="235.28" width="10.40" height="11.11" fill="#FF8C00"/>
<rect x="147.03" y="224.65" width="10.40" height="10.64" fill="#FF0000"/>
<rect x="147.03" y="213.30" width="10.40" height="11.35" fill="#3CB371"/>
<rect x="147.03" y="202.19" width="10.40" height="11.11" fill="#ADFF2F"/>
<rect x="147.03" y="191.08" width="10.40" height="11.11" fill="#FFFF00"/>
<rect x="147.03" y="180.50" width="10.40" height="10.58" fill="#FFFFE0"/>
<rect x="147.03" y="180.50" width="10.40" height="120.10" fill="none" stroke="#000" stroke-width="0.65"/>
<path d="M147.03 289.66h10.40M147.03 279.02h10.40M147.03 268.38h10.40M147.03 257.27h10.40M147.03 246.39h10.40M147.03 235.28h10.40M147.03 224.65h10.40M147.03 213.30h10.40M147.03 202.19h10.40M147.03 191.08h10.40" stroke="#000" stroke-width="0.65" fill="none"/>
<rect x="163.72" y="289.18" width="10.40" height="11.42" fill="#4169E1"/>
<rect x="163.72" y="278.55" width="10.40" height="10.64" fill="#00CED1"/>
<rect x="163.72" y="267.67" width="10.40" height="10.87" fill="#9400D3"/>
<rect x="163.72" y="256.56" width="10.40" height="11.11" fill="#FF00FF"/>
<rect x="163.72" y="245.92" width="10.40" height="10.64" fill="#FFDAB9"/>
<rect x="163.72" y="234.10" width="10.40" height="11.82" fill="#FF8C00"/>
<rect x="163.72" y="223.46" width="10.40" height="10.64" fill="#FF0000"/>
<rect x="163.72" y="212.83" width="10.40" height="10.64" fill="#3CB371"/>
<rect x="163.72" y="202.19" width="10.40" height="10.64" fill="#ADFF2F"/>
<rect x="163.72" y="191.08" width="10.40" height="11.11" fill="#FFFF00"/>
<rect x="163.72" y="180.50" width="10.40" height="10.58" fill="#FFFFE0"/>
<rect x="163.72" y="180.50" width="10.40" height="120.10" fill="none" stroke="#000" stroke-width="0.65"/>
<path d="M163.72 289.18h10.40M163.72 278.55h10.40M163.72 267.67h10.40M163.72 256.56h10.40M163.72 245.92h10.40M163.72 234.10h10.40M163.72 223.46h10.40M163.72 212.83h10.40M163.72 202.19h10.40M163.72 191.08h10.40" stroke="#000" stroke-width="0.65" fill="none"/>
<rect x="180.41" y="290.13" width="10.40" height="10.47" fill="#4169E1"/>
<rect x="180.41" y="279.49" width="10.40" height="10.64" fill="#00CED1"/>
<rect x="180.41" y="268.38" width="10.40" height="11.11" fill="#9400D3"/>
<rect x="180.41" y="257.27" width="10.40" height="11.11" fill="#FF00FF"/>
<rect x="180.41" y="246.39" width="10.40" height="10.87" fill="#FFDAB9"/>
<rect x="180.41" y="235.76" width="10.40" height="10.64" fill="#FF8C00"/>
<rect x="180.41" y="224.17" width="10.40" height="11.58" fill="#FF0000"/>
<rect x="180.41" y="213.30" width="10.40" height="10.87" fill="#3CB371"/>
<rect x="180.41" y="202.19" width="10.40" height="11.11" fill="#ADFF2F"/>
<rect x="180.41" y="191.08" width="10.40" height="11.11" fill="#FFFF00"/>
<rect x="180.41" y="180.50" width="10.40" height="10.58" fill="#FFFFE0"/>
<rect x="180.41" y="180.50" width="10.40" height="120.10" fill="none" stroke="#000" stroke-width="0.65"/>
<path d="M180.41 290.13h10.40M180.41 279.49h10.40M180.41 268.38h10.40M180.41 257.27h10.40M180.41 246.39h10.40M180.41 235.76h10.40M180.41 224.17h10.40M180.41 213.30h10.40M180.41 202.19h10.40M180.41 191.08h10.40" stroke="#000" stroke-width="0.65" fill="none"/>
<path d="M18.30 178.20H202.50V300.60" fill="none" stroke="#222" stroke-width="0.85"/>
<path d="M18.30 177.80V300.60" fill="none" stroke="#000" stroke-width="1.00"/>
<path d="M17.80 300.60H202.92" fill="none" stroke="#000" stroke-width="1.00"/>
<text transform="translate(16.40 303.35) scale(1 0.87)" font-size="9.40" text-anchor="end">0.0</text>
<path d="M18.30 276.58h2.20M202.50 276.58h-2.20" stroke="#000" stroke-width="0.40"/>
<text transform="translate(16.40 279.33) scale(1 0.87)" font-size="9.40" text-anchor="end">0.2</text>
<path d="M18.30 252.56h2.20M202.50 252.56h-2.20" stroke="#000" stroke-width="0.40"/>
<text transform="translate(16.40 255.31) scale(1 0.87)" font-size="9.40" text-anchor="end">0.4</text>
<path d="M18.30 228.54h2.20M202.50 228.54h-2.20" stroke="#000" stroke-width="0.40"/>
<text transform="translate(16.40 231.29) scale(1 0.87)" font-size="9.40" text-anchor="end">0.6</text>
<path d="M18.30 204.52h2.20M202.50 204.52h-2.20" stroke="#000" stroke-width="0.40"/>
<text transform="translate(16.40 207.27) scale(1 0.87)" font-size="9.40" text-anchor="end">0.8</text>
<text transform="translate(16.40 183.25) scale(1 0.87)" font-size="9.40" text-anchor="end">1.0</text>
<text transform="translate(35.40 308.75) scale(1 0.87)" font-size="9.40" text-anchor="middle">1</text>
<text transform="translate(52.09 308.75) scale(1 0.87)" font-size="9.40" text-anchor="middle">2</text>
<text transform="translate(68.78 308.75) scale(1 0.87)" font-size="9.40" text-anchor="middle">3</text>
<text transform="translate(85.47 308.75) scale(1 0.87)" font-size="9.40" text-anchor="middle">4</text>
<text transform="translate(102.16 308.75) scale(1 0.87)" font-size="9.40" text-anchor="middle">5</text>
<text transform="translate(118.85 308.75) scale(1 0.87)" font-size="9.40" text-anchor="middle">6</text>
<text transform="translate(135.54 308.75) scale(1 0.87)" font-size="9.40" text-anchor="middle">7</text>
<text transform="translate(152.23 308.75) scale(1 0.87)" font-size="9.40" text-anchor="middle">8</text>
<text transform="translate(168.92 308.75) scale(1 0.87)" font-size="9.40" text-anchor="middle">9</text>
<text transform="translate(185.61 308.75) scale(1 0.87)" font-size="9.40" text-anchor="middle">10</text>
<text x="110.40" y="319.80" font-size="9.40" font-style="italic" text-anchor="middle">η</text>
<rect x="207.40" y="179.10" width="7.20" height="7.40" fill="#4169E1" stroke="#000" stroke-width="0.85"/>
<text transform="translate(217.70 186.20) scale(1 0.87)" font-size="9.40">1</text>
<rect x="207.40" y="190.49" width="7.20" height="7.40" fill="#00CED1" stroke="#000" stroke-width="0.85"/>
<text transform="translate(217.70 197.59) scale(1 0.87)" font-size="9.40">2</text>
<rect x="207.40" y="201.88" width="7.20" height="7.40" fill="#9400D3" stroke="#000" stroke-width="0.85"/>
<text transform="translate(217.70 208.98) scale(1 0.87)" font-size="9.40">3</text>
<rect x="207.40" y="213.27" width="7.20" height="7.40" fill="#FF00FF" stroke="#000" stroke-width="0.85"/>
<text transform="translate(217.70 220.37) scale(1 0.87)" font-size="9.40">4</text>
<rect x="207.40" y="224.66" width="7.20" height="7.40" fill="#FFDAB9" stroke="#000" stroke-width="0.85"/>
<text transform="translate(217.70 231.76) scale(1 0.87)" font-size="9.40">5</text>
<rect x="207.40" y="236.05" width="7.20" height="7.40" fill="#FF8C00" stroke="#000" stroke-width="0.85"/>
<text transform="translate(217.70 243.15) scale(1 0.87)" font-size="9.40">6</text>
<rect x="207.40" y="247.44" width="7.20" height="7.40" fill="#FF0000" stroke="#000" stroke-width="0.85"/>
<text transform="translate(217.70 254.54) scale(1 0.87)" font-size="9.40">7</text>
<rect x="207.40" y="258.83" width="7.20" height="7.40" fill="#3CB371" stroke="#000" stroke-width="0.85"/>
<text transform="translate(217.70 265.93) scale(1 0.87)" font-size="9.40">8</text>
<rect x="207.40" y="270.22" width="7.20" height="7.40" fill="#ADFF2F" stroke="#000" stroke-width="0.85"/>
<text transform="translate(217.70 277.32) scale(1 0.87)" font-size="9.40">9</text>
<rect x="207.40" y="281.61" width="7.20" height="7.40" fill="#FFFF00" stroke="#000" stroke-width="0.85"/>
<text transform="translate(217.70 288.71) scale(1 0.87)" font-size="9.40">10</text>
<rect x="207.40" y="293.00" width="7.20" height="7.40" fill="#FFFFE0" stroke="#000" stroke-width="0.85"/>
<text transform="translate(217.70 300.10) scale(1 0.87)" font-size="9.40">11</text>
<text x="116.20" y="341.20" font-size="9.8" stroke-width="0.4" text-anchor="middle">(c)</text>
<rect x="264.40" y="290.13" width="10.40" height="10.47" fill="#4169E1"/>
<rect x="264.40" y="279.02" width="10.40" height="11.11" fill="#00CED1"/>
<rect x="264.40" y="267.91" width="10.40" height="11.11" fill="#9400D3"/>
<rect x="264.40" y="257.27" width="10.40" height="10.64" fill="#FF00FF"/>
<rect x="264.40" y="246.63" width="10.40" height="10.64" fill="#FFDAB9"/>
<rect x="264.40" y="235.76" width="10.40" height="10.87" fill="#FF8C00"/>
<rect x="264.40" y="225.12" width="10.40" height="10.64" fill="#FF0000"/>
<rect x="264.40" y="214.01" width="10.40" height="11.11" fill="#3CB371"/>
<rect x="264.40" y="202.66" width="10.40" height="11.35" fill="#ADFF2F"/>
<rect x="264.40" y="191.55" width="10.40" height="11.11" fill="#FFFF00"/>
<rect x="264.40" y="180.50" width="10.40" height="11.05" fill="#FFFFE0"/>
<rect x="264.40" y="180.50" width="10.40" height="120.10" fill="none" stroke="#000" stroke-width="0.65"/>
<path d="M264.40 290.13h10.40M264.40 279.02h10.40M264.40 267.91h10.40M264.40 257.27h10.40M264.40 246.63h10.40M264.40 235.76h10.40M264.40 225.12h10.40M264.40 214.01h10.40M264.40 202.66h10.40M264.40 191.55h10.40" stroke="#000" stroke-width="0.65" fill="none"/>
<rect x="281.09" y="289.66" width="10.40" height="10.94" fill="#4169E1"/>
<rect x="281.09" y="278.55" width="10.40" height="11.11" fill="#00CED1"/>
<rect x="281.09" y="267.91" width="10.40" height="10.64" fill="#9400D3"/>
<rect x="281.09" y="257.27" width="10.40" height="10.64" fill="#FF00FF"/>
<rect x="281.09" y="245.92" width="10.40" height="11.35" fill="#FFDAB9"/>
<rect x="281.09" y="235.28" width="10.40" height="10.64" fill="#FF8C00"/>
<rect x="281.09" y="224.17" width="10.40" height="11.11" fill="#FF0000"/>
<rect x="281.09" y="213.30" width="10.40" height="10.87" fill="#3CB371"/>
<rect x="281.09" y="202.66" width="10.40" height="10.64" fill="#ADFF2F"/>
<rect x="281.09" y="191.55" width="10.40" height="11.11" fill="#FFFF00"/>
<rect x="281.09" y="180.50" width="10.40" height="11.05" fill="#FFFFE0"/>
<rect x="281.09" y="180.50" width="10.40" height="120.10" fill="none" stroke="#000" stroke-width="0.65"/>
<path d="M281.09 289.66h10.40M281.09 278.55h10.40M281.09 267.91h10.40M281.09 257.27h10.40M281.09 245.92h10.40M281.09 235.28h10.40M281.09 224.17h10.40M281.09 213.30h10.40M281.09 202.66h10.40M281.09 191.55h10.40" stroke="#000" stroke-width="0.65" fill="none"/>
<rect x="297.78" y="289.66" width="10.40" height="10.94" fill="#4169E1"/>
<rect x="297.78" y="278.55" width="10.40" height="11.11" fill="#00CED1"/>
<rect x="297.78" y="267.91" width="10.40" height="10.64" fill="#9400D3"/>
<rect x="297.78" y="257.27" width="10.40" height="10.64" fill="#FF00FF"/>
<rect x="297.78" y="245.92" width="10.40" height="11.35" fill="#FFDAB9"/>
<rect x="297.78" y="235.28" width="10.40" height="10.64" fill="#FF8C00"/>
<rect x="297.78" y="224.17" width="10.40" height="11.11" fill="#FF0000"/>
<rect x="297.78" y="213.30" width="10.40" height="10.87" fill="#3CB371"/>
<rect x="297.78" y="202.66" width="10.40" height="10.64" fill="#ADFF2F"/>
<rect x="297.78" y="191.08" width="10.40" height="11.58" fill="#FFFF00"/>
<rect x="297.78" y="180.50" width="10.40" height="10.58" fill="#FFFFE0"/>
<rect x="297.78" y="180.50" width="10.40" height="120.10" fill="none" stroke="#000" stroke-width="0.65"/>
<path d="M297.78 289.66h10.40M297.78 278.55h10.40M297.78 267.91h10.40M297.78 257.27h10.40M297.78 245.92h10.40M297.78 235.28h10.40M297.78 224.17h10.40M297.78 213.30h10.40M297.78 202.66h10.40M297.78 191.08h10.40" stroke="#000" stroke-width="0.65" fill="none"/>
<rect x="314.47" y="289.66" width="10.40" height="10.94" fill="#4169E1"/>
<rect x="314.47" y="279.02" width="10.40" height="10.64" fill="#00CED1"/>
<rect x="314.47" y="268.38" width="10.40" height="10.64" fill="#9400D3"/>
<rect x="314.47" y="257.27" width="10.40" height="11.11" fill="#FF00FF"/>
<rect x="314.47" y="246.39" width="10.40" height="10.87" fill="#FFDAB9"/>
<rect x="314.47" y="235.28" width="10.40" height="11.11" fill="#FF8C00"/>
<rect x="314.47" y="224.17" width="10.40" height="11.11" fill="#FF0000"/>
<rect x="314.47" y="213.30" width="10.40" height="10.87" fill="#3CB371"/>
<rect x="314.47" y="202.66" width="10.40" height="10.64" fill="#ADFF2F"/>
<rect x="314.47" y="191.08" width="10.40" height="11.58" fill="#FFFF00"/>
<rect x="314.47" y="180.50" width="10.40" height="10.58" fill="#FFFFE0"/>
<rect x="314.47" y="180.50" width="10.40" height="120.10" fill="none" stroke="#000" stroke-width="0.65"/>
<path d="M314.47 289.66h10.40M314.47 279.02h10.40M314.47 268.38h10.40M314.47 257.27h10.40M314.47 246.39h10.40M314.47 235.28h10.40M314.47 224.17h10.40M314.47 213.30h10.40M314.47 202.66h10.40M314.47 191.08h10.40" stroke="#000" stroke-width="0.65" fill="none"/>
<rect x="331.16" y="289.66" width="10.40" height="10.94" fill="#4169E1"/>
<rect x="331.16" y="278.55" width="10.40" height="11.11" fill="#00CED1"/>
<rect x="331.16" y="267.91" width="10.40" height="10.64" fill="#9400D3"/>
<rect x="331.16" y="257.27" width="10.40" height="10.64" fill="#FF00FF"/>
<rect x="331.16" y="246.39" width="10.40" height="10.87" fill="#FFDAB9"/>
<rect x="331.16" y="235.28" width="10.40" height="11.11" fill="#FF8C00"/>
<rect x="331.16" y="224.17" width="10.40" height="11.11" fill="#FF0000"/>
<rect x="331.16" y="213.30" width="10.40" height="10.87" fill="#3CB371"/>
<rect x="331.16" y="202.66" width="10.40" height="10.64" fill="#ADFF2F"/>
<rect x="331.16" y="191.08" width="10.40" height="11.58" fill="#FFFF00"/>
<rect x="331.16" y="180.50" width="10.40" height="10.58" fill="#FFFFE0"/>
<rect x="331.16" y="180.50" width="10.40" height="120.10" fill="none" stroke="#000" stroke-width="0.65"/>
<path d="M331.16 289.66h10.40M331.16 278.55h10.40M331.16 267.91h10.40M331.16 257.27h10.40M331.16 246.39h10.40M331.16 235.28h10.40M331.16 224.17h10.40M331.16 213.30h10.40M331.16 202.66h10.40M331.16 191.08h10.40" stroke="#000" stroke-width="0.65" fill="none"/>
<rect x="347.85" y="289.66" width="10.40" height="10.94" fill="#4169E1"/>
<rect x="347.85" y="279.02" width="10.40" height="10.64" fill="#00CED1"/>
<rect x="347.85" y="267.91" width="10.40" height="11.11" fill="#9400D3"/>
<rect x="347.85" y="257.27" width="10.40" height="10.64" fill="#FF00FF"/>
<rect x="347.85" y="246.39" width="10.40" height="10.87" fill="#FFDAB9"/>
<rect x="347.85" y="235.28" width="10.40" height="11.11" fill="#FF8C00"/>
<rect x="347.85" y="224.17" width="10.40" height="11.11" fill="#FF0000"/>
<rect x="347.85" y="213.53" width="10.40" height="10.64" fill="#3CB371"/>
<rect x="347.85" y="202.66" width="10.40" height="10.87" fill="#ADFF2F"/>
<rect x="347.85" y="191.08" width="10.40" height="11.58" fill="#FFFF00"/>
<rect x="347.85" y="180.50" width="10.40" height="10.58" fill="#FFFFE0"/>
<rect x="347.85" y="180.50" width="10.40" height="120.10" fill="none" stroke="#000" stroke-width="0.65"/>
<path d="M347.85 289.66h10.40M347.85 279.02h10.40M347.85 267.91h10.40M347.85 257.27h10.40M347.85 246.39h10.40M347.85 235.28h10.40M347.85 224.17h10.40M347.85 213.53h10.40M347.85 202.66h10.40M347.85 191.08h10.40" stroke="#000" stroke-width="0.65" fill="none"/>
<rect x="364.54" y="290.13" width="10.40" height="10.47" fill="#4169E1"/>
<rect x="364.54" y="279.02" width="10.40" height="11.11" fill="#00CED1"/>
<rect x="364.54" y="268.38" width="10.40" height="10.64" fill="#9400D3"/>
<rect x="364.54" y="257.74" width="10.40" height="10.64" fill="#FF00FF"/>
<rect x="364.54" y="246.63" width="10.40" height="11.11" fill="#FFDAB9"/>
<rect x="364.54" y="235.99" width="10.40" height="10.64" fill="#FF8C00"/>
<rect x="364.54" y="224.17" width="10.40" height="11.82" fill="#FF0000"/>
<rect x="364.54" y="213.53" width="10.40" height="10.64" fill="#3CB371"/>
<rect x="364.54" y="202.66" width="10.40" height="10.87" fill="#ADFF2F"/>
<rect x="364.54" y="191.08" width="10.40" height="11.58" fill="#FFFF00"/>
<rect x="364.54" y="180.50" width="10.40" height="10.58" fill="#FFFFE0"/>
<rect x="364.54" y="180.50" width="10.40" height="120.10" fill="none" stroke="#000" stroke-width="0.65"/>
<path d="M364.54 290.13h10.40M364.54 279.02h10.40M364.54 268.38h10.40M364.54 257.74h10.40M364.54 246.63h10.40M364.54 235.99h10.40M364.54 224.17h10.40M364.54 213.53h10.40M364.54 202.66h10.40M364.54 191.08h10.40" stroke="#000" stroke-width="0.65" fill="none"/>
<rect x="381.23" y="290.13" width="10.40" height="10.47" fill="#4169E1"/>
<rect x="381.23" y="279.02" width="10.40" height="11.11" fill="#00CED1"/>
<rect x="381.23" y="267.91" width="10.40" height="11.11" fill="#9400D3"/>
<rect x="381.23" y="256.56" width="10.40" height="11.35" fill="#FF00FF"/>
<rect x="381.23" y="245.45" width="10.40" height="11.11" fill="#FFDAB9"/>
<rect x="381.23" y="234.57" width="10.40" height="10.87" fill="#FF8C00"/>
<rect x="381.23" y="223.46" width="10.40" height="11.11" fill="#FF0000"/>
<rect x="381.23" y="212.83" width="10.40" height="10.64" fill="#3CB371"/>
<rect x="381.23" y="202.19" width="10.40" height="10.64" fill="#ADFF2F"/>
<rect x="381.23" y="191.08" width="10.40" height="11.11" fill="#FFFF00"/>
<rect x="381.23" y="180.50" width="10.40" height="10.58" fill="#FFFFE0"/>
<rect x="381.23" y="180.50" width="10.40" height="120.10" fill="none" stroke="#000" stroke-width="0.65"/>
<path d="M381.23 290.13h10.40M381.23 279.02h10.40M381.23 267.91h10.40M381.23 256.56h10.40M381.23 245.45h10.40M381.23 234.57h10.40M381.23 223.46h10.40M381.23 212.83h10.40M381.23 202.19h10.40M381.23 191.08h10.40" stroke="#000" stroke-width="0.65" fill="none"/>
<rect x="397.92" y="289.66" width="10.40" height="10.94" fill="#4169E1"/>
<rect x="397.92" y="279.02" width="10.40" height="10.64" fill="#00CED1"/>
<rect x="397.92" y="267.91" width="10.40" height="11.11" fill="#9400D3"/>
<rect x="397.92" y="257.27" width="10.40" height="10.64" fill="#FF00FF"/>
<rect x="397.92" y="246.39" width="10.40" height="10.87" fill="#FFDAB9"/>
<rect x="397.92" y="235.28" width="10.40" height="11.11" fill="#FF8C00"/>
<rect x="397.92" y="224.65" width="10.40" height="10.64" fill="#FF0000"/>
<rect x="397.92" y="213.53" width="10.40" height="11.11" fill="#3CB371"/>
<rect x="397.92" y="202.66" width="10.40" height="10.87" fill="#ADFF2F"/>
<rect x="397.92" y="191.08" width="10.40" height="11.58" fill="#FFFF00"/>
<rect x="397.92" y="180.50" width="10.40" height="10.58" fill="#FFFFE0"/>
<rect x="397.92" y="180.50" width="10.40" height="120.10" fill="none" stroke="#000" stroke-width="0.65"/>
<path d="M397.92 289.66h10.40M397.92 279.02h10.40M397.92 267.91h10.40M397.92 257.27h10.40M397.92 246.39h10.40M397.92 235.28h10.40M397.92 224.65h10.40M397.92 213.53h10.40M397.92 202.66h10.40M397.92 191.08h10.40" stroke="#000" stroke-width="0.65" fill="none"/>
<rect x="414.61" y="290.13" width="10.40" height="10.47" fill="#4169E1"/>
<rect x="414.61" y="279.02" width="10.40" height="11.11" fill="#00CED1"/>
<rect x="414.61" y="268.38" width="10.40" height="10.64" fill="#9400D3"/>
<rect x="414.61" y="257.74" width="10.40" height="10.64" fill="#FF00FF"/>
<rect x="414.61" y="247.10" width="10.40" height="10.64" fill="#FFDAB9"/>
<rect x="414.61" y="236.47" width="10.40" height="10.64" fill="#FF8C00"/>
<rect x="414.61" y="225.12" width="10.40" height="11.35" fill="#FF0000"/>
<rect x="414.61" y="214.48" width="10.40" height="10.64" fill="#3CB371"/>
<rect x="414.61" y="203.37" width="10.40" height="11.11" fill="#ADFF2F"/>
<rect x="414.61" y="191.08" width="10.40" height="12.29" fill="#FFFF00"/>
<rect x="414.61" y="180.50" width="10.40" height="10.58" fill="#FFFFE0"/>
<rect x="414.61" y="180.50" width="10.40" height="120.10" fill="none" stroke="#000" stroke-width="0.65"/>
<path d="M414.61 290.13h10.40M414.61 279.02h10.40M414.61 268.38h10.40M414.61 257.74h10.40M414.61 247.10h10.40M414.61 236.47h10.40M414.61 225.12h10.40M414.61 214.48h10.40M414.61 203.37h10.40M414.61 191.08h10.40" stroke="#000" stroke-width="0.65" fill="none"/>
<path d="M252.50 178.20H436.70V300.60" fill="none" stroke="#222" stroke-width="0.85"/>
<path d="M252.50 177.80V300.60" fill="none" stroke="#000" stroke-width="1.00"/>
<path d="M252.00 300.60H437.12" fill="none" stroke="#000" stroke-width="1.00"/>
<text transform="translate(250.60 303.35) scale(1 0.87)" font-size="9.40" text-anchor="end">0.0</text>
<path d="M252.50 276.58h2.20M436.70 276.58h-2.20" stroke="#000" stroke-width="0.40"/>
<text transform="translate(250.60 279.33) scale(1 0.87)" font-size="9.40" text-anchor="end">0.2</text>
<path d="M252.50 252.56h2.20M436.70 252.56h-2.20" stroke="#000" stroke-width="0.40"/>
<text transform="translate(250.60 255.31) scale(1 0.87)" font-size="9.40" text-anchor="end">0.4</text>
<path d="M252.50 228.54h2.20M436.70 228.54h-2.20" stroke="#000" stroke-width="0.40"/>
<text transform="translate(250.60 231.29) scale(1 0.87)" font-size="9.40" text-anchor="end">0.6</text>
<path d="M252.50 204.52h2.20M436.70 204.52h-2.20" stroke="#000" stroke-width="0.40"/>
<text transform="translate(250.60 207.27) scale(1 0.87)" font-size="9.40" text-anchor="end">0.8</text>
<text transform="translate(250.60 183.25) scale(1 0.87)" font-size="9.40" text-anchor="end">1.0</text>
<text transform="translate(269.60 308.75) scale(1 0.87)" font-size="9.40" text-anchor="middle">1</text>
<text transform="translate(286.29 308.75) scale(1 0.87)" font-size="9.40" text-anchor="middle">2</text>
<text transform="translate(302.98 308.75) scale(1 0.87)" font-size="9.40" text-anchor="middle">3</text>
<text transform="translate(319.67 308.75) scale(1 0.87)" font-size="9.40" text-anchor="middle">4</text>
<text transform="translate(336.36 308.75) scale(1 0.87)" font-size="9.40" text-anchor="middle">5</text>
<text transform="translate(353.05 308.75) scale(1 0.87)" font-size="9.40" text-anchor="middle">6</text>
<text transform="translate(369.74 308.75) scale(1 0.87)" font-size="9.40" text-anchor="middle">7</text>
<text transform="translate(386.43 308.75) scale(1 0.87)" font-size="9.40" text-anchor="middle">8</text>
<text transform="translate(403.12 308.75) scale(1 0.87)" font-size="9.40" text-anchor="middle">9</text>
<text transform="translate(419.81 308.75) scale(1 0.87)" font-size="9.40" text-anchor="middle">10</text>
<text x="344.60" y="319.80" font-size="9.40" font-style="italic" text-anchor="middle">η</text>
<rect x="441.60" y="179.10" width="7.20" height="7.40" fill="#4169E1" stroke="#000" stroke-width="0.85"/>
<text transform="translate(451.90 186.20) scale(1 0.87)" font-size="9.40">1</text>
<rect x="441.60" y="190.49" width="7.20" height="7.40" fill="#00CED1" stroke="#000" stroke-width="0.85"/>
<text transform="translate(451.90 197.59) scale(1 0.87)" font-size="9.40">2</text>
<rect x="441.60" y="201.88" width="7.20" height="7.40" fill="#9400D3" stroke="#000" stroke-width="0.85"/>
<text transform="translate(451.90 208.98) scale(1 0.87)" font-size="9.40">3</text>
<rect x="441.60" y="213.27" width="7.20" height="7.40" fill="#FF00FF" stroke="#000" stroke-width="0.85"/>
<text transform="translate(451.90 220.37) scale(1 0.87)" font-size="9.40">4</text>
<rect x="441.60" y="224.66" width="7.20" height="7.40" fill="#FFDAB9" stroke="#000" stroke-width="0.85"/>
<text transform="translate(451.90 231.76) scale(1 0.87)" font-size="9.40">5</text>
<rect x="441.60" y="236.05" width="7.20" height="7.40" fill="#FF8C00" stroke="#000" stroke-width="0.85"/>
<text transform="translate(451.90 243.15) scale(1 0.87)" font-size="9.40">6</text>
<rect x="441.60" y="247.44" width="7.20" height="7.40" fill="#FF0000" stroke="#000" stroke-width="0.85"/>
<text transform="translate(451.90 254.54) scale(1 0.87)" font-size="9.40">7</text>
<rect x="441.60" y="258.83" width="7.20" height="7.40" fill="#3CB371" stroke="#000" stroke-width="0.85"/>
<text transform="translate(451.90 265.93) scale(1 0.87)" font-size="9.40">8</text>
<rect x="441.60" y="270.22" width="7.20" height="7.40" fill="#ADFF2F" stroke="#000" stroke-width="0.85"/>
<text transform="translate(451.90 277.32) scale(1 0.87)" font-size="9.40">9</text>
<rect x="441.60" y="281.61" width="7.20" height="7.40" fill="#FFFF00" stroke="#000" stroke-width="0.85"/>
<text transform="translate(451.90 288.71) scale(1 0.87)" font-size="9.40">10</text>
<rect x="441.60" y="293.00" width="7.20" height="7.40" fill="#FFFFE0" stroke="#000" stroke-width="0.85"/>
<text transform="translate(451.90 300.10) scale(1 0.87)" font-size="9.40">11</text>
<text x="350.00" y="341.20" font-size="9.8" stroke-width="0.4" text-anchor="middle">(d)</text>
<rect x="131.35" y="462.50" width="12.25" height="35.00" fill="#4169E1"/>
<rect x="131.35" y="456.50" width="12.25" height="6.00" fill="#00CED1"/>
<rect x="131.35" y="450.40" width="12.25" height="6.10" fill="#9400D3"/>
<rect x="131.35" y="446.30" width="12.25" height="4.10" fill="#FF00FF"/>
<rect x="131.35" y="442.80" width="12.25" height="3.50" fill="#FFDAB9"/>
<rect x="131.35" y="411.80" width="12.25" height="31.00" fill="#FF8C00"/>
<rect x="131.35" y="407.70" width="12.25" height="4.10" fill="#FF0000"/>
<rect x="131.35" y="402.40" width="12.25" height="5.30" fill="#3CB371"/>
<rect x="131.35" y="395.40" width="12.25" height="7.00" fill="#ADFF2F"/>
<rect x="131.35" y="391.30" width="12.25" height="4.10" fill="#FFFF00"/>
<rect x="131.35" y="355.80" width="12.25" height="35.50" fill="#FFFFE0"/>
<rect x="131.35" y="355.80" width="12.25" height="141.70" fill="none" stroke="#000" stroke-width="0.77"/>
<path d="M131.35 462.50h12.25M131.35 456.50h12.25M131.35 450.40h12.25M131.35 446.30h12.25M131.35 442.80h12.25M131.35 411.80h12.25M131.35 407.70h12.25M131.35 402.40h12.25M131.35 395.40h12.25M131.35 391.30h12.25" stroke="#000" stroke-width="0.77" fill="none"/>
<rect x="151.09" y="462.50" width="12.25" height="35.00" fill="#4169E1"/>
<rect x="151.09" y="459.20" width="12.25" height="3.30" fill="#00CED1"/>
<rect x="151.09" y="453.90" width="12.25" height="5.30" fill="#9400D3"/>
<rect x="151.09" y="448.90" width="12.25" height="5.00" fill="#FF00FF"/>
<rect x="151.09" y="444.40" width="12.25" height="4.50" fill="#FFDAB9"/>
<rect x="151.09" y="412.50" width="12.25" height="31.90" fill="#FF8C00"/>
<rect x="151.09" y="408.50" width="12.25" height="4.00" fill="#FF0000"/>
<rect x="151.09" y="402.40" width="12.25" height="6.10" fill="#3CB371"/>
<rect x="151.09" y="398.20" width="12.25" height="4.20" fill="#ADFF2F"/>
<rect x="151.09" y="394.40" width="12.25" height="3.80" fill="#FFFF00"/>
<rect x="151.09" y="355.80" width="12.25" height="38.60" fill="#FFFFE0"/>
<rect x="151.09" y="355.80" width="12.25" height="141.70" fill="none" stroke="#000" stroke-width="0.77"/>
<path d="M151.09 462.50h12.25M151.09 459.20h12.25M151.09 453.90h12.25M151.09 448.90h12.25M151.09 444.40h12.25M151.09 412.50h12.25M151.09 408.50h12.25M151.09 402.40h12.25M151.09 398.20h12.25M151.09 394.40h12.25" stroke="#000" stroke-width="0.77" fill="none"/>
<rect x="170.83" y="459.50" width="12.25" height="38.00" fill="#4169E1"/>
<rect x="170.83" y="456.50" width="12.25" height="3.00" fill="#00CED1"/>
<rect x="170.83" y="452.20" width="12.25" height="4.30" fill="#9400D3"/>
<rect x="170.83" y="446.30" width="12.25" height="5.90" fill="#FF00FF"/>
<rect x="170.83" y="444.10" width="12.25" height="2.20" fill="#FFDAB9"/>
<rect x="170.83" y="411.00" width="12.25" height="33.10" fill="#FF8C00"/>
<rect x="170.83" y="406.50" width="12.25" height="4.50" fill="#FF0000"/>
<rect x="170.83" y="402.40" width="12.25" height="4.10" fill="#3CB371"/>
<rect x="170.83" y="398.20" width="12.25" height="4.20" fill="#ADFF2F"/>
<rect x="170.83" y="394.40" width="12.25" height="3.80" fill="#FFFF00"/>
<rect x="170.83" y="355.80" width="12.25" height="38.60" fill="#FFFFE0"/>
<rect x="170.83" y="355.80" width="12.25" height="141.70" fill="none" stroke="#000" stroke-width="0.77"/>
<path d="M170.83 459.50h12.25M170.83 456.50h12.25M170.83 452.20h12.25M170.83 446.30h12.25M170.83 444.10h12.25M170.83 411.00h12.25M170.83 406.50h12.25M170.83 402.40h12.25M170.83 398.20h12.25M170.83 394.40h12.25" stroke="#000" stroke-width="0.77" fill="none"/>
<rect x="190.57" y="459.20" width="12.25" height="38.30" fill="#4169E1"/>
<rect x="190.57" y="455.70" width="12.25" height="3.50" fill="#00CED1"/>
<rect x="190.57" y="452.40" width="12.25" height="3.30" fill="#9400D3"/>
<rect x="190.57" y="449.70" width="12.25" height="2.70" fill="#FF00FF"/>
<rect x="190.57" y="447.80" width="12.25" height="1.90" fill="#FFDAB9"/>
<rect x="190.57" y="408.80" width="12.25" height="39.00" fill="#FF8C00"/>
<rect x="190.57" y="406.50" width="12.25" height="2.30" fill="#FF0000"/>
<rect x="190.57" y="401.50" width="12.25" height="5.00" fill="#3CB371"/>
<rect x="190.57" y="398.20" width="12.25" height="3.30" fill="#ADFF2F"/>
<rect x="190.57" y="396.90" width="12.25" height="1.30" fill="#FFFF00"/>
<rect x="190.57" y="355.80" width="12.25" height="41.10" fill="#FFFFE0"/>
<rect x="190.57" y="355.80" width="12.25" height="141.70" fill="none" stroke="#000" stroke-width="0.77"/>
<path d="M190.57 459.20h12.25M190.57 455.70h12.25M190.57 452.40h12.25M190.57 449.70h12.25M190.57 447.80h12.25M190.57 408.80h12.25M190.57 406.50h12.25M190.57 401.50h12.25M190.57 398.20h12.25M190.57 396.90h12.25" stroke="#000" stroke-width="0.77" fill="none"/>
<rect x="210.31" y="459.20" width="12.25" height="38.30" fill="#4169E1"/>
<rect x="210.31" y="456.20" width="12.25" height="3.00" fill="#00CED1"/>
<rect x="210.31" y="450.40" width="12.25" height="5.80" fill="#9400D3"/>
<rect x="210.31" y="444.40" width="12.25" height="6.00" fill="#FF00FF"/>
<rect x="210.31" y="443.30" width="12.25" height="1.10" fill="#FFDAB9"/>
<rect x="210.31" y="408.80" width="12.25" height="34.50" fill="#FF8C00"/>
<rect x="210.31" y="406.00" width="12.25" height="2.80" fill="#FF0000"/>
<rect x="210.31" y="400.40" width="12.25" height="5.60" fill="#3CB371"/>
<rect x="210.31" y="396.30" width="12.25" height="4.10" fill="#ADFF2F"/>
<rect x="210.31" y="393.60" width="12.25" height="2.70" fill="#FFFF00"/>
<rect x="210.31" y="355.80" width="12.25" height="37.80" fill="#FFFFE0"/>
<rect x="210.31" y="355.80" width="12.25" height="141.70" fill="none" stroke="#000" stroke-width="0.77"/>
<path d="M210.31 459.20h12.25M210.31 456.20h12.25M210.31 450.40h12.25M210.31 444.40h12.25M210.31 443.30h12.25M210.31 408.80h12.25M210.31 406.00h12.25M210.31 400.40h12.25M210.31 396.30h12.25M210.31 393.60h12.25" stroke="#000" stroke-width="0.77" fill="none"/>
<rect x="230.05" y="456.50" width="12.25" height="41.00" fill="#4169E1"/>
<rect x="230.05" y="454.50" width="12.25" height="2.00" fill="#00A5A8"/>
<rect x="230.05" y="448.20" width="12.25" height="6.30" fill="#9400D3"/>
<rect x="230.05" y="442.50" width="12.25" height="5.70" fill="#FF00FF"/>
<rect x="230.05" y="440.90" width="12.25" height="1.60" fill="#FFDAB9"/>
<rect x="230.05" y="411.50" width="12.25" height="29.40" fill="#FF8C00"/>
<rect x="230.05" y="408.00" width="12.25" height="3.50" fill="#FF0000"/>
<rect x="230.05" y="401.60" width="12.25" height="6.40" fill="#3CB371"/>
<rect x="230.05" y="396.30" width="12.25" height="5.30" fill="#ADFF2F"/>
<rect x="230.05" y="395.10" width="12.25" height="1.20" fill="#FFFF00"/>
<rect x="230.05" y="355.80" width="12.25" height="39.30" fill="#FFFFE0"/>
<rect x="230.05" y="355.80" width="12.25" height="141.70" fill="none" stroke="#000" stroke-width="0.77"/>
<path d="M230.05 456.50h12.25M230.05 454.50h12.25M230.05 448.20h12.25M230.05 442.50h12.25M230.05 440.90h12.25M230.05 411.50h12.25M230.05 408.00h12.25M230.05 401.60h12.25M230.05 396.30h12.25M230.05 395.10h12.25" stroke="#000" stroke-width="0.77" fill="none"/>
<rect x="249.79" y="460.70" width="12.25" height="36.80" fill="#4169E1"/>
<rect x="249.79" y="458.80" width="12.25" height="1.90" fill="#00A5A8"/>
<rect x="249.79" y="455.00" width="12.25" height="3.80" fill="#9400D3"/>
<rect x="249.79" y="451.20" width="12.25" height="3.80" fill="#FF00FF"/>
<rect x="249.79" y="448.50" width="12.25" height="2.70" fill="#FFDAB9"/>
<rect x="249.79" y="407.70" width="12.25" height="40.80" fill="#FF8C00"/>
<rect x="249.79" y="404.50" width="12.25" height="3.20" fill="#FF0000"/>
<rect x="249.79" y="399.40" width="12.25" height="5.10" fill="#3CB371"/>
<rect x="249.79" y="395.40" width="12.25" height="4.00" fill="#ADFF2F"/>
<rect x="249.79" y="393.30" width="12.25" height="2.10" fill="#FFFF00"/>
<rect x="249.79" y="355.80" width="12.25" height="37.50" fill="#FFFFE0"/>
<rect x="249.79" y="355.80" width="12.25" height="141.70" fill="none" stroke="#000" stroke-width="0.77"/>
<path d="M249.79 460.70h12.25M249.79 458.80h12.25M249.79 455.00h12.25M249.79 451.20h12.25M249.79 448.50h12.25M249.79 407.70h12.25M249.79 404.50h12.25M249.79 399.40h12.25M249.79 395.40h12.25M249.79 393.30h12.25" stroke="#000" stroke-width="0.77" fill="none"/>
<rect x="269.53" y="453.50" width="12.25" height="44.00" fill="#4169E1"/>
<rect x="269.53" y="451.50" width="12.25" height="2.00" fill="#00A5A8"/>
<rect x="269.53" y="447.80" width="12.25" height="3.70" fill="#9400D3"/>
<rect x="269.53" y="443.20" width="12.25" height="4.60" fill="#FF00FF"/>
<rect x="269.53" y="440.60" width="12.25" height="2.60" fill="#FFDAB9"/>
<rect x="269.53" y="403.50" width="12.25" height="37.10" fill="#FF8C00"/>
<rect x="269.53" y="401.50" width="12.25" height="2.00" fill="#FF0000"/>
<rect x="269.53" y="396.60" width="12.25" height="4.90" fill="#3CB371"/>
<rect x="269.53" y="394.40" width="12.25" height="2.20" fill="#ADFF2F"/>
<rect x="269.53" y="392.80" width="12.25" height="1.60" fill="#FFFF00"/>
<rect x="269.53" y="355.80" width="12.25" height="37.00" fill="#FFFFE0"/>
<rect x="269.53" y="355.80" width="12.25" height="141.70" fill="none" stroke="#000" stroke-width="0.77"/>
<path d="M269.53 453.50h12.25M269.53 451.50h12.25M269.53 447.80h12.25M269.53 443.20h12.25M269.53 440.60h12.25M269.53 403.50h12.25M269.53 401.50h12.25M269.53 396.60h12.25M269.53 394.40h12.25M269.53 392.80h12.25" stroke="#000" stroke-width="0.77" fill="none"/>
<rect x="289.27" y="458.00" width="12.25" height="39.50" fill="#4169E1"/>
<rect x="289.27" y="455.70" width="12.25" height="2.30" fill="#00CED1"/>
<rect x="289.27" y="453.50" width="12.25" height="2.20" fill="#9400D3"/>
<rect x="289.27" y="450.00" width="12.25" height="3.50" fill="#FF00FF"/>
<rect x="289.27" y="449.40" width="12.25" height="0.60" fill="#FFDAB9"/>
<rect x="289.27" y="403.00" width="12.25" height="46.40" fill="#FF8C00"/>
<rect x="289.27" y="401.90" width="12.25" height="1.10" fill="#FF0000"/>
<rect x="289.27" y="398.50" width="12.25" height="3.40" fill="#3CB371"/>
<rect x="289.27" y="395.90" width="12.25" height="2.60" fill="#ADFF2F"/>
<rect x="289.27" y="395.10" width="12.25" height="0.80" fill="#FFFF00"/>
<rect x="289.27" y="355.80" width="12.25" height="39.30" fill="#FFFFE0"/>
<rect x="289.27" y="355.80" width="12.25" height="141.70" fill="none" stroke="#000" stroke-width="0.77"/>
<path d="M289.27 458.00h12.25M289.27 455.70h12.25M289.27 453.50h12.25M289.27 450.00h12.25M289.27 449.40h12.25M289.27 403.00h12.25M289.27 401.90h12.25M289.27 398.50h12.25M289.27 395.90h12.25M289.27 395.10h12.25" stroke="#000" stroke-width="0.77" fill="none"/>
<rect x="309.01" y="459.20" width="12.25" height="38.30" fill="#4169E1"/>
<rect x="309.01" y="454.50" width="12.25" height="4.70" fill="#00CED1"/>
<rect x="309.01" y="451.20" width="12.25" height="3.30" fill="#9400D3"/>
<rect x="309.01" y="446.30" width="12.25" height="4.90" fill="#FF00FF"/>
<rect x="309.01" y="443.90" width="12.25" height="2.40" fill="#FFDAB9"/>
<rect x="309.01" y="415.10" width="12.25" height="28.80" fill="#FF8C00"/>
<rect x="309.01" y="410.70" width="12.25" height="4.40" fill="#FF0000"/>
<rect x="309.01" y="406.80" width="12.25" height="3.90" fill="#3CB371"/>
<rect x="309.01" y="403.50" width="12.25" height="3.30" fill="#ADFF2F"/>
<rect x="309.01" y="400.00" width="12.25" height="3.50" fill="#FFFF00"/>
<rect x="309.01" y="355.80" width="12.25" height="44.20" fill="#FFFFE0"/>
<rect x="309.01" y="355.80" width="12.25" height="141.70" fill="none" stroke="#000" stroke-width="0.77"/>
<path d="M309.01 459.20h12.25M309.01 454.50h12.25M309.01 451.20h12.25M309.01 446.30h12.25M309.01 443.90h12.25M309.01 415.10h12.25M309.01 410.70h12.25M309.01 406.80h12.25M309.01 403.50h12.25M309.01 400.00h12.25" stroke="#000" stroke-width="0.77" fill="none"/>
<path d="M117.80 353.31H334.79V497.50" fill="none" stroke="#222" stroke-width="1.00"/>
<path d="M117.80 352.84V497.50" fill="none" stroke="#000" stroke-width="1.18"/>
<path d="M117.21 497.50H335.28" fill="none" stroke="#000" stroke-width="1.18"/>
<text transform="translate(115.56 500.74) scale(1 0.87)" font-size="11.07" text-anchor="end">0.0</text>
<path d="M117.80 469.16h2.59M334.79 469.16h-2.59" stroke="#000" stroke-width="0.47"/>
<text transform="translate(115.56 472.40) scale(1 0.87)" font-size="11.07" text-anchor="end">0.2</text>
<path d="M117.80 440.82h2.59M334.79 440.82h-2.59" stroke="#000" stroke-width="0.47"/>
<text transform="translate(115.56 444.06) scale(1 0.87)" font-size="11.07" text-anchor="end">0.4</text>
<path d="M117.80 412.48h2.59M334.79 412.48h-2.59" stroke="#000" stroke-width="0.47"/>
<text transform="translate(115.56 415.72) scale(1 0.87)" font-size="11.07" text-anchor="end">0.6</text>
<path d="M117.80 384.14h2.59M334.79 384.14h-2.59" stroke="#000" stroke-width="0.47"/>
<text transform="translate(115.56 387.38) scale(1 0.87)" font-size="11.07" text-anchor="end">0.8</text>
<text transform="translate(115.56 359.04) scale(1 0.87)" font-size="11.07" text-anchor="end">1.0</text>
<text transform="translate(137.48 507.10) scale(1 0.87)" font-size="11.07" text-anchor="middle">1</text>
<text transform="translate(157.22 507.10) scale(1 0.87)" font-size="11.07" text-anchor="middle">2</text>
<text transform="translate(176.96 507.10) scale(1 0.87)" font-size="11.07" text-anchor="middle">3</text>
<text transform="translate(196.70 507.10) scale(1 0.87)" font-size="11.07" text-anchor="middle">4</text>
<text transform="translate(216.44 507.10) scale(1 0.87)" font-size="11.07" text-anchor="middle">5</text>
<text transform="translate(236.18 507.10) scale(1 0.87)" font-size="11.07" text-anchor="middle">6</text>
<text transform="translate(255.92 507.10) scale(1 0.87)" font-size="11.07" text-anchor="middle">7</text>
<text transform="translate(275.66 507.10) scale(1 0.87)" font-size="11.07" text-anchor="middle">8</text>
<text transform="translate(295.40 507.10) scale(1 0.87)" font-size="11.07" text-anchor="middle">9</text>
<text transform="translate(315.14 507.10) scale(1 0.87)" font-size="11.07" text-anchor="middle">10</text>
<text x="226.29" y="521.88" font-size="11.07" font-style="italic" text-anchor="middle">η</text>
<rect x="340.56" y="354.37" width="8.48" height="8.72" fill="#4169E1" stroke="#000" stroke-width="1.00"/>
<text transform="translate(352.69 362.74) scale(1 0.87)" font-size="11.07">1</text>
<rect x="340.56" y="367.79" width="8.48" height="8.72" fill="#00CED1" stroke="#000" stroke-width="1.00"/>
<text transform="translate(352.69 376.15) scale(1 0.87)" font-size="11.07">2</text>
<rect x="340.56" y="381.21" width="8.48" height="8.72" fill="#9400D3" stroke="#000" stroke-width="1.00"/>
<text transform="translate(352.69 389.57) scale(1 0.87)" font-size="11.07">3</text>
<rect x="340.56" y="394.63" width="8.48" height="8.72" fill="#FF00FF" stroke="#000" stroke-width="1.00"/>
<text transform="translate(352.69 402.99) scale(1 0.87)" font-size="11.07">4</text>
<rect x="340.56" y="408.04" width="8.48" height="8.72" fill="#FFDAB9" stroke="#000" stroke-width="1.00"/>
<text transform="translate(352.69 416.41) scale(1 0.87)" font-size="11.07">5</text>
<rect x="340.56" y="421.46" width="8.48" height="8.72" fill="#FF8C00" stroke="#000" stroke-width="1.00"/>
<text transform="translate(352.69 429.82) scale(1 0.87)" font-size="11.07">6</text>
<rect x="340.56" y="434.88" width="8.48" height="8.72" fill="#FF0000" stroke="#000" stroke-width="1.00"/>
<text transform="translate(352.69 443.24) scale(1 0.87)" font-size="11.07">7</text>
<rect x="340.56" y="448.29" width="8.48" height="8.72" fill="#3CB371" stroke="#000" stroke-width="1.00"/>
<text transform="translate(352.69 456.66) scale(1 0.87)" font-size="11.07">8</text>
<rect x="340.56" y="461.71" width="8.48" height="8.72" fill="#ADFF2F" stroke="#000" stroke-width="1.00"/>
<text transform="translate(352.69 470.08) scale(1 0.87)" font-size="11.07">9</text>
<rect x="340.56" y="475.13" width="8.48" height="8.72" fill="#FFFF00" stroke="#000" stroke-width="1.00"/>
<text transform="translate(352.69 483.49) scale(1 0.87)" font-size="11.07">10</text>
<rect x="340.56" y="488.55" width="8.48" height="8.72" fill="#FFFFE0" stroke="#000" stroke-width="1.00"/>
<text transform="translate(352.69 496.91) scale(1 0.87)" font-size="11.07">11</text>
<text x="232.80" y="541.80" font-size="9.8" stroke-width="0.4" text-anchor="middle">(e)</text>
</svg>
</body></html>
